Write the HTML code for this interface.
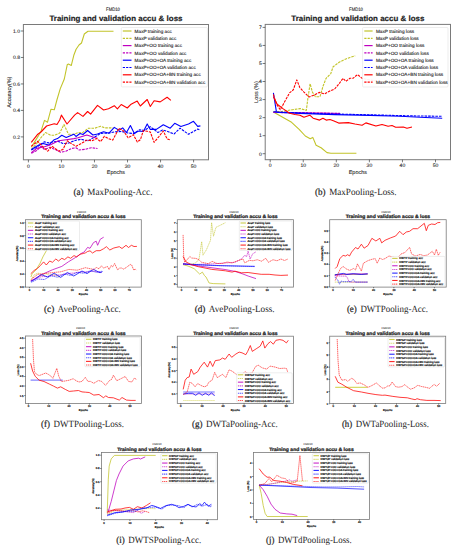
<!DOCTYPE html>
<html><head><meta charset="utf-8"><style>
html,body{margin:0;padding:0;background:#fff;}
svg{display:block;} text{text-rendering:geometricPrecision;}
</style></head><body>
<svg width="458" height="550" viewBox="0 0 458 550">
<rect width="458" height="550" fill="#fff"/>
<clipPath id="cpa"><rect x="23.4" y="24.5" width="185.1" height="135.3"/></clipPath>
<g clip-path="url(#cpa)">
<polyline points="31.30,147.30 38.00,136.40 41.10,130.90 44.50,120.40 47.50,122.20 51.00,109.20 54.30,109.80 56.90,100.00 60.20,88.90 64.30,79.00 67.20,64.80 68.40,64.00 71.30,65.40 73.80,55.30 76.10,49.20 79.00,45.00 81.50,43.00 84.30,34.00 88.00,31.20 113.50,31.20" fill="none" stroke="#c2c42a" stroke-width="1.1" stroke-opacity="1.0" stroke-linejoin="round"/>
<polyline points="31.30,142.40 37.80,134.20 41.00,132.00 46.60,126.00 54.20,123.80 57.00,124.50 59.70,120.00 61.40,115.10 67.00,124.00 74.60,115.10 77.60,112.60 83.00,116.40 87.60,111.50 90.60,114.10 97.50,105.40 103.60,110.00 108.50,108.70 114.30,105.70 117.40,108.80 121.20,104.50 127.30,108.00 131.10,104.20 137.20,101.10 140.30,106.00 147.20,99.50 150.30,106.50 154.10,100.70 160.20,101.90 167.10,97.30 170.90,100.40" fill="none" stroke="#ff0000" stroke-width="1.1" stroke-opacity="1.0" stroke-linejoin="round"/>
<polyline points="31.30,149.50 36.70,143.50 41.10,137.50 45.50,132.60 50.90,135.30 54.50,135.30 59.70,133.10 64.00,124.40 68.40,134.20 73.90,134.20 78.00,132.50 82.00,133.00 88.30,128.30 94.50,128.30 100.60,126.30 105.00,127.90 111.30,127.90 113.20,128.00" fill="none" stroke="#c2c42a" stroke-width="1.1" stroke-dasharray="2.6,1.0" stroke-opacity="1.0" stroke-linejoin="round"/>
<polyline points="31.30,149.50 34.50,147.50 38.90,145.10 43.30,143.50 48.70,145.10 54.20,139.70 57.50,138.60 61.80,135.30 66.20,137.50 73.90,134.20 76.00,136.50 80.00,133.50 83.00,134.50 87.60,130.50 92.90,135.00 97.50,134.00 103.60,131.70 109.00,133.20 114.30,127.40 119.00,130.20 122.70,127.90 126.50,132.50 130.40,125.60 134.20,133.20 137.30,131.30 140.00,131.30 143.40,131.50 147.20,123.90 150.30,129.40 156.40,129.40 163.30,124.80 170.20,128.20 174.70,123.30 180.90,126.40 188.50,123.90 193.50,121.30 197.70,126.40 200.40,125.90" fill="none" stroke="#0000ff" stroke-width="1.1" stroke-opacity="1.0" stroke-linejoin="round"/>
<polyline points="31.30,150.00 36.70,147.30 44.40,141.80 48.70,142.90 54.00,141.80 58.00,141.30 62.90,143.50 67.30,143.50 71.70,141.80 76.00,140.20 81.00,139.30 88.30,140.90 94.50,137.00 100.60,133.50 109.70,132.90 115.80,131.70 121.90,131.50 128.00,133.00 135.00,133.60 139.60,129.70 144.20,130.50 150.30,126.70 157.90,132.50 162.50,130.00 167.10,131.30 174.00,134.00 180.10,128.20 188.50,134.30 197.70,129.00 200.00,130.00" fill="none" stroke="#0000ff" stroke-width="1.1" stroke-dasharray="2.6,1.0" stroke-opacity="1.0" stroke-linejoin="round"/>
<polyline points="31.30,152.80 36.70,148.40 44.40,146.70 50.00,145.00 58.60,140.70 66.20,139.70 73.90,138.60 78.00,137.80 86.80,135.00 95.20,137.80 97.50,138.00" fill="none" stroke="#bf00bf" stroke-width="1.1" stroke-opacity="1.0" stroke-linejoin="round"/>
<polyline points="31.30,153.30 36.70,150.60 41.10,146.20 44.40,149.50 50.00,147.30 55.30,149.50 60.80,152.20 66.20,151.10 71.70,148.40 76.00,147.80 79.20,150.00 85.30,149.30 91.40,147.70 97.50,148.50" fill="none" stroke="#bf00bf" stroke-width="1.1" stroke-dasharray="2.6,1.0" stroke-opacity="1.0" stroke-linejoin="round"/>
<polyline points="31.30,146.20 37.80,141.30 42.20,146.20 47.70,151.10 52.00,146.20 58.60,151.10 62.90,149.50 67.30,140.70 71.70,144.00 76.00,146.20 80.80,143.80 86.80,140.10 92.00,140.80 96.80,138.60 100.60,141.60 104.40,136.30 108.30,138.60 112.80,140.10 118.90,128.30 123.50,130.90 128.10,137.80 133.40,134.70 137.30,142.00 140.40,139.70 143.40,130.50 147.20,131.30 150.30,132.00 154.10,142.30 158.70,136.80 163.30,131.00 167.10,138.90 170.50,140.10" fill="none" stroke="#ff0000" stroke-width="1.1" stroke-dasharray="2.6,1.0" stroke-opacity="1.0" stroke-linejoin="round"/>
</g>
<rect x="23.4" y="24.5" width="185.1" height="135.3" fill="none" stroke="#7a7a7a" stroke-width="1.0"/>
<line x1="28.40" y1="159.8" x2="28.40" y2="162.4" stroke="#222" stroke-width="0.6"/>
<text transform="translate(28.40 167.50) scale(0.1)" x="0" y="0" font-family="Liberation Sans" font-size="51.00" font-weight="normal" text-anchor="middle" fill="#222" stroke="#222" stroke-width="0.80">0</text>
<line x1="61.44" y1="159.8" x2="61.44" y2="162.4" stroke="#222" stroke-width="0.6"/>
<text transform="translate(61.44 167.50) scale(0.1)" x="0" y="0" font-family="Liberation Sans" font-size="51.00" font-weight="normal" text-anchor="middle" fill="#222" stroke="#222" stroke-width="0.80">10</text>
<line x1="94.48" y1="159.8" x2="94.48" y2="162.4" stroke="#222" stroke-width="0.6"/>
<text transform="translate(94.48 167.50) scale(0.1)" x="0" y="0" font-family="Liberation Sans" font-size="51.00" font-weight="normal" text-anchor="middle" fill="#222" stroke="#222" stroke-width="0.80">20</text>
<line x1="127.52" y1="159.8" x2="127.52" y2="162.4" stroke="#222" stroke-width="0.6"/>
<text transform="translate(127.52 167.50) scale(0.1)" x="0" y="0" font-family="Liberation Sans" font-size="51.00" font-weight="normal" text-anchor="middle" fill="#222" stroke="#222" stroke-width="0.80">30</text>
<line x1="160.56" y1="159.8" x2="160.56" y2="162.4" stroke="#222" stroke-width="0.6"/>
<text transform="translate(160.56 167.50) scale(0.1)" x="0" y="0" font-family="Liberation Sans" font-size="51.00" font-weight="normal" text-anchor="middle" fill="#222" stroke="#222" stroke-width="0.80">40</text>
<line x1="193.60" y1="159.8" x2="193.60" y2="162.4" stroke="#222" stroke-width="0.6"/>
<text transform="translate(193.60 167.50) scale(0.1)" x="0" y="0" font-family="Liberation Sans" font-size="51.00" font-weight="normal" text-anchor="middle" fill="#222" stroke="#222" stroke-width="0.80">50</text>
<line x1="20.799999999999997" y1="136.90" x2="23.4" y2="136.90" stroke="#222" stroke-width="0.6"/>
<text transform="translate(20.00 138.74) scale(0.1)" x="0" y="0" font-family="Liberation Sans" font-size="51.00" font-weight="normal" text-anchor="end" fill="#222" stroke="#222" stroke-width="0.80">0.2</text>
<line x1="20.799999999999997" y1="110.42" x2="23.4" y2="110.42" stroke="#222" stroke-width="0.6"/>
<text transform="translate(20.00 112.26) scale(0.1)" x="0" y="0" font-family="Liberation Sans" font-size="51.00" font-weight="normal" text-anchor="end" fill="#222" stroke="#222" stroke-width="0.80">0.4</text>
<line x1="20.799999999999997" y1="83.95" x2="23.4" y2="83.95" stroke="#222" stroke-width="0.6"/>
<text transform="translate(20.00 85.79) scale(0.1)" x="0" y="0" font-family="Liberation Sans" font-size="51.00" font-weight="normal" text-anchor="end" fill="#222" stroke="#222" stroke-width="0.80">0.6</text>
<line x1="20.799999999999997" y1="57.47" x2="23.4" y2="57.47" stroke="#222" stroke-width="0.6"/>
<text transform="translate(20.00 59.31) scale(0.1)" x="0" y="0" font-family="Liberation Sans" font-size="51.00" font-weight="normal" text-anchor="end" fill="#222" stroke="#222" stroke-width="0.80">0.8</text>
<line x1="20.799999999999997" y1="31.00" x2="23.4" y2="31.00" stroke="#222" stroke-width="0.6"/>
<text transform="translate(20.00 32.84) scale(0.1)" x="0" y="0" font-family="Liberation Sans" font-size="51.00" font-weight="normal" text-anchor="end" fill="#222" stroke="#222" stroke-width="0.80">1.0</text>
<text transform="translate(115.95 174.40) scale(0.1)" x="0" y="0" font-family="Liberation Sans" font-size="55.00" font-weight="normal" text-anchor="middle" fill="#222" stroke="#222" stroke-width="0.80">Epochs</text>
<text transform="translate(11.20 92.15) rotate(-90) scale(0.1)" x="0" y="0" font-family="Liberation Sans" font-size="55.00" font-weight="normal" text-anchor="middle" fill="#222" stroke="#222" stroke-width="0.80">Accuracy(%)</text>
<text transform="translate(115.95 21.40) scale(1.02 1) scale(0.1)" x="0" y="0" font-family="Liberation Sans" font-size="78.00" font-weight="bold" text-anchor="middle" fill="#222" stroke="#222" stroke-width="2.00">Training and validation accu &amp; loss</text>
<text transform="translate(113.00 10.60) scale(0.85 1) scale(0.1)" x="0" y="0" font-family="Liberation Sans" font-size="50.00" font-weight="normal" text-anchor="middle" fill="#222" stroke="#222" stroke-width="1.00">FMD10</text>
<rect x="121.3" y="27.5" width="86.10000000000001" height="59.400000000000006" fill="#fff" fill-opacity="0.92" stroke="#e0e0e0" stroke-width="0.6" rx="1"/>
<line x1="122.8" y1="31.00" x2="131.5" y2="31.00" stroke="#c2c42a" stroke-opacity="1.0" stroke-width="1.2"/>
<text transform="translate(134.60 32.69) scale(0.1)" x="0" y="0" font-family="Liberation Sans" font-size="47.00" font-weight="normal" text-anchor="start" fill="#222" stroke="#222" stroke-width="1.20">MaxP training acc</text>
<line x1="122.8" y1="38.30" x2="131.5" y2="38.30" stroke="#c2c42a" stroke-opacity="1.0" stroke-width="1.2" stroke-dasharray="2.2,1.1"/>
<text transform="translate(134.60 39.99) scale(0.1)" x="0" y="0" font-family="Liberation Sans" font-size="47.00" font-weight="normal" text-anchor="start" fill="#222" stroke="#222" stroke-width="1.20">MaxP validation acc</text>
<line x1="122.8" y1="45.60" x2="131.5" y2="45.60" stroke="#bf00bf" stroke-opacity="1.0" stroke-width="1.2"/>
<text transform="translate(134.60 47.29) scale(0.1)" x="0" y="0" font-family="Liberation Sans" font-size="47.00" font-weight="normal" text-anchor="start" fill="#222" stroke="#222" stroke-width="1.20">MaxP+OO training acc</text>
<line x1="122.8" y1="52.90" x2="131.5" y2="52.90" stroke="#bf00bf" stroke-opacity="1.0" stroke-width="1.2" stroke-dasharray="2.2,1.1"/>
<text transform="translate(134.60 54.59) scale(0.1)" x="0" y="0" font-family="Liberation Sans" font-size="47.00" font-weight="normal" text-anchor="start" fill="#222" stroke="#222" stroke-width="1.20">MaxP+OO validation acc</text>
<line x1="122.8" y1="60.20" x2="131.5" y2="60.20" stroke="#0000ff" stroke-opacity="1.0" stroke-width="1.2"/>
<text transform="translate(134.60 61.89) scale(0.1)" x="0" y="0" font-family="Liberation Sans" font-size="47.00" font-weight="normal" text-anchor="start" fill="#222" stroke="#222" stroke-width="1.20">MaxP+OO+OA training acc</text>
<line x1="122.8" y1="67.50" x2="131.5" y2="67.50" stroke="#0000ff" stroke-opacity="1.0" stroke-width="1.2" stroke-dasharray="2.2,1.1"/>
<text transform="translate(134.60 69.19) scale(0.1)" x="0" y="0" font-family="Liberation Sans" font-size="47.00" font-weight="normal" text-anchor="start" fill="#222" stroke="#222" stroke-width="1.20">MaxP+OO+OA validation acc</text>
<line x1="122.8" y1="74.80" x2="131.5" y2="74.80" stroke="#ff0000" stroke-opacity="1.0" stroke-width="1.2"/>
<text transform="translate(134.60 76.49) scale(0.1)" x="0" y="0" font-family="Liberation Sans" font-size="47.00" font-weight="normal" text-anchor="start" fill="#222" stroke="#222" stroke-width="1.20">MaxP+OO+OA+BN training acc</text>
<line x1="122.8" y1="82.10" x2="131.5" y2="82.10" stroke="#ff0000" stroke-opacity="1.0" stroke-width="1.2" stroke-dasharray="2.2,1.1"/>
<text transform="translate(134.60 83.79) scale(0.1)" x="0" y="0" font-family="Liberation Sans" font-size="47.00" font-weight="normal" text-anchor="start" fill="#222" stroke="#222" stroke-width="1.20">MaxP+OO+OA+BN validation acc</text>
<text transform="translate(73.5 195.4) scale(0.96 1)" x="0" y="0" font-family="Liberation Serif" font-size="9.5" fill="#222"><tspan stroke="#222" stroke-width="0.2">(a)</tspan><tspan dx="1.5"> MaxPooling-Acc.</tspan></text>
<clipPath id="cpb"><rect x="265.2" y="24.4" width="185.3" height="135.29999999999998"/></clipPath>
<g clip-path="url(#cpb)">
<polyline points="273.40,112.00 281.80,116.80 291.60,122.30 299.40,129.60 305.30,136.00 310.20,138.80 312.80,137.40 316.10,145.30 321.10,147.80 327.00,152.60 330.90,153.30 356.40,153.30" fill="none" stroke="#c2c42a" stroke-width="1.1" stroke-opacity="1.0" stroke-linejoin="round"/>
<polyline points="273.40,111.70 282.00,111.50 292.50,109.70 300.10,108.60 306.30,110.40 307.80,99.00 310.10,83.70 312.40,92.10 315.40,96.70 320.00,96.70 323.10,86.00 326.10,78.30 330.70,73.80 333.10,66.80 339.20,62.20 345.30,59.20 350.00,57.50 355.20,55.80" fill="none" stroke="#c2c42a" stroke-width="1.1" stroke-dasharray="2.6,1.0" stroke-opacity="1.0" stroke-linejoin="round"/>
<polyline points="273.40,112.30 340.00,113.50" fill="none" stroke="#bf00bf" stroke-width="1.1" stroke-opacity="1.0" stroke-linejoin="round"/>
<polyline points="273.40,112.50 340.00,113.30" fill="none" stroke="#bf00bf" stroke-width="1.1" stroke-dasharray="2.6,1.0" stroke-opacity="1.0" stroke-linejoin="round"/>
<polyline points="273.40,92.90 276.50,112.30 300.00,113.40 335.00,114.60 370.00,115.40 400.00,116.20 420.00,117.20 442.20,118.30" fill="none" stroke="#0000ff" stroke-width="1.1" stroke-opacity="1.0" stroke-linejoin="round"/>
<polyline points="273.40,111.80 300.00,113.00 335.00,114.00 370.00,114.80 400.00,115.60 420.00,116.00 442.20,116.30" fill="none" stroke="#0000ff" stroke-width="1.1" stroke-dasharray="2.6,1.0" stroke-opacity="1.0" stroke-linejoin="round"/>
<polyline points="273.40,96.70 277.20,104.30 283.30,108.90 289.60,113.30 295.00,114.50 300.00,115.20 303.90,117.20 309.80,115.20 313.10,118.20 319.60,120.10 322.90,118.20 326.20,120.10 330.00,119.50 334.00,121.00 338.70,123.10 348.30,122.60 355.00,124.00 362.10,125.20 365.90,122.90 375.90,126.00 382.00,124.50 388.10,126.30 392.00,125.50 395.70,127.20 403.30,127.00 407.00,128.30 412.00,127.00" fill="none" stroke="#ff0000" stroke-width="1.1" stroke-opacity="1.0" stroke-linejoin="round"/>
<polyline points="273.40,94.40 276.50,104.30 280.30,109.70 284.90,101.30 289.50,92.90 293.30,89.80 296.80,79.90 299.80,87.50 304.00,92.10 309.00,97.00 313.90,95.20 319.30,92.40 324.60,93.90 330.70,90.60 334.60,89.00 339.20,83.60 343.00,78.30 346.00,81.30 349.90,78.30 353.00,78.30 357.50,74.50 362.10,78.30 370.00,80.00 385.00,82.00 400.00,80.00 412.00,81.00" fill="none" stroke="#ff0000" stroke-width="1.1" stroke-dasharray="2.6,1.0" stroke-opacity="1.0" stroke-linejoin="round"/>
</g>
<rect x="265.2" y="24.4" width="185.3" height="135.29999999999998" fill="none" stroke="#7a7a7a" stroke-width="1.0"/>
<line x1="270.20" y1="159.7" x2="270.20" y2="162.29999999999998" stroke="#222" stroke-width="0.6"/>
<text transform="translate(270.20 167.40) scale(0.1)" x="0" y="0" font-family="Liberation Sans" font-size="51.00" font-weight="normal" text-anchor="middle" fill="#222" stroke="#222" stroke-width="0.80">0</text>
<line x1="303.26" y1="159.7" x2="303.26" y2="162.29999999999998" stroke="#222" stroke-width="0.6"/>
<text transform="translate(303.26 167.40) scale(0.1)" x="0" y="0" font-family="Liberation Sans" font-size="51.00" font-weight="normal" text-anchor="middle" fill="#222" stroke="#222" stroke-width="0.80">10</text>
<line x1="336.32" y1="159.7" x2="336.32" y2="162.29999999999998" stroke="#222" stroke-width="0.6"/>
<text transform="translate(336.32 167.40) scale(0.1)" x="0" y="0" font-family="Liberation Sans" font-size="51.00" font-weight="normal" text-anchor="middle" fill="#222" stroke="#222" stroke-width="0.80">20</text>
<line x1="369.38" y1="159.7" x2="369.38" y2="162.29999999999998" stroke="#222" stroke-width="0.6"/>
<text transform="translate(369.38 167.40) scale(0.1)" x="0" y="0" font-family="Liberation Sans" font-size="51.00" font-weight="normal" text-anchor="middle" fill="#222" stroke="#222" stroke-width="0.80">30</text>
<line x1="402.44" y1="159.7" x2="402.44" y2="162.29999999999998" stroke="#222" stroke-width="0.6"/>
<text transform="translate(402.44 167.40) scale(0.1)" x="0" y="0" font-family="Liberation Sans" font-size="51.00" font-weight="normal" text-anchor="middle" fill="#222" stroke="#222" stroke-width="0.80">40</text>
<line x1="435.50" y1="159.7" x2="435.50" y2="162.29999999999998" stroke="#222" stroke-width="0.6"/>
<text transform="translate(435.50 167.40) scale(0.1)" x="0" y="0" font-family="Liberation Sans" font-size="51.00" font-weight="normal" text-anchor="middle" fill="#222" stroke="#222" stroke-width="0.80">50</text>
<line x1="262.59999999999997" y1="153.70" x2="265.2" y2="153.70" stroke="#222" stroke-width="0.6"/>
<text transform="translate(261.80 155.54) scale(0.1)" x="0" y="0" font-family="Liberation Sans" font-size="51.00" font-weight="normal" text-anchor="end" fill="#222" stroke="#222" stroke-width="0.80">0</text>
<line x1="262.59999999999997" y1="135.66" x2="265.2" y2="135.66" stroke="#222" stroke-width="0.6"/>
<text transform="translate(261.80 137.49) scale(0.1)" x="0" y="0" font-family="Liberation Sans" font-size="51.00" font-weight="normal" text-anchor="end" fill="#222" stroke="#222" stroke-width="0.80">1</text>
<line x1="262.59999999999997" y1="117.61" x2="265.2" y2="117.61" stroke="#222" stroke-width="0.6"/>
<text transform="translate(261.80 119.45) scale(0.1)" x="0" y="0" font-family="Liberation Sans" font-size="51.00" font-weight="normal" text-anchor="end" fill="#222" stroke="#222" stroke-width="0.80">2</text>
<line x1="262.59999999999997" y1="99.57" x2="265.2" y2="99.57" stroke="#222" stroke-width="0.6"/>
<text transform="translate(261.80 101.41) scale(0.1)" x="0" y="0" font-family="Liberation Sans" font-size="51.00" font-weight="normal" text-anchor="end" fill="#222" stroke="#222" stroke-width="0.80">3</text>
<line x1="262.59999999999997" y1="81.53" x2="265.2" y2="81.53" stroke="#222" stroke-width="0.6"/>
<text transform="translate(261.80 83.36) scale(0.1)" x="0" y="0" font-family="Liberation Sans" font-size="51.00" font-weight="normal" text-anchor="end" fill="#222" stroke="#222" stroke-width="0.80">4</text>
<line x1="262.59999999999997" y1="63.49" x2="265.2" y2="63.49" stroke="#222" stroke-width="0.6"/>
<text transform="translate(261.80 65.32) scale(0.1)" x="0" y="0" font-family="Liberation Sans" font-size="51.00" font-weight="normal" text-anchor="end" fill="#222" stroke="#222" stroke-width="0.80">5</text>
<line x1="262.59999999999997" y1="45.44" x2="265.2" y2="45.44" stroke="#222" stroke-width="0.6"/>
<text transform="translate(261.80 47.28) scale(0.1)" x="0" y="0" font-family="Liberation Sans" font-size="51.00" font-weight="normal" text-anchor="end" fill="#222" stroke="#222" stroke-width="0.80">6</text>
<line x1="262.59999999999997" y1="27.40" x2="265.2" y2="27.40" stroke="#222" stroke-width="0.6"/>
<text transform="translate(261.80 29.24) scale(0.1)" x="0" y="0" font-family="Liberation Sans" font-size="51.00" font-weight="normal" text-anchor="end" fill="#222" stroke="#222" stroke-width="0.80">7</text>
<text transform="translate(357.85 174.30) scale(0.1)" x="0" y="0" font-family="Liberation Sans" font-size="55.00" font-weight="normal" text-anchor="middle" fill="#222" stroke="#222" stroke-width="0.80">Epochs</text>
<text transform="translate(257.50 92.05) rotate(-90) scale(0.1)" x="0" y="0" font-family="Liberation Sans" font-size="55.00" font-weight="normal" text-anchor="middle" fill="#222" stroke="#222" stroke-width="0.80">Loss (%)</text>
<text transform="translate(357.85 21.30) scale(1.02 1) scale(0.1)" x="0" y="0" font-family="Liberation Sans" font-size="78.00" font-weight="bold" text-anchor="middle" fill="#222" stroke="#222" stroke-width="2.00">Training and validation accu &amp; loss</text>
<text transform="translate(356.00 10.60) scale(0.85 1) scale(0.1)" x="0" y="0" font-family="Liberation Sans" font-size="50.00" font-weight="normal" text-anchor="middle" fill="#222" stroke="#222" stroke-width="1.00">FMD10</text>
<rect x="362.6" y="27.5" width="85.39999999999998" height="59.5" fill="#fff" fill-opacity="0.92" stroke="#e0e0e0" stroke-width="0.6" rx="1"/>
<line x1="364.3" y1="31.00" x2="372.6" y2="31.00" stroke="#c2c42a" stroke-opacity="1.0" stroke-width="1.2"/>
<text transform="translate(375.90 32.69) scale(0.1)" x="0" y="0" font-family="Liberation Sans" font-size="47.00" font-weight="normal" text-anchor="start" fill="#222" stroke="#222" stroke-width="1.20">MaxP training loss</text>
<line x1="364.3" y1="38.30" x2="372.6" y2="38.30" stroke="#c2c42a" stroke-opacity="1.0" stroke-width="1.2" stroke-dasharray="2.2,1.1"/>
<text transform="translate(375.90 39.99) scale(0.1)" x="0" y="0" font-family="Liberation Sans" font-size="47.00" font-weight="normal" text-anchor="start" fill="#222" stroke="#222" stroke-width="1.20">MaxP validation loss</text>
<line x1="364.3" y1="45.60" x2="372.6" y2="45.60" stroke="#bf00bf" stroke-opacity="1.0" stroke-width="1.2"/>
<text transform="translate(375.90 47.29) scale(0.1)" x="0" y="0" font-family="Liberation Sans" font-size="47.00" font-weight="normal" text-anchor="start" fill="#222" stroke="#222" stroke-width="1.20">MaxP+OO training loss</text>
<line x1="364.3" y1="52.90" x2="372.6" y2="52.90" stroke="#bf00bf" stroke-opacity="1.0" stroke-width="1.2" stroke-dasharray="2.2,1.1"/>
<text transform="translate(375.90 54.59) scale(0.1)" x="0" y="0" font-family="Liberation Sans" font-size="47.00" font-weight="normal" text-anchor="start" fill="#222" stroke="#222" stroke-width="1.20">MaxP+OO validation loss</text>
<line x1="364.3" y1="60.20" x2="372.6" y2="60.20" stroke="#0000ff" stroke-opacity="1.0" stroke-width="1.2"/>
<text transform="translate(375.90 61.89) scale(0.1)" x="0" y="0" font-family="Liberation Sans" font-size="47.00" font-weight="normal" text-anchor="start" fill="#222" stroke="#222" stroke-width="1.20">MaxP+OO+OA training loss</text>
<line x1="364.3" y1="67.50" x2="372.6" y2="67.50" stroke="#0000ff" stroke-opacity="1.0" stroke-width="1.2" stroke-dasharray="2.2,1.1"/>
<text transform="translate(375.90 69.19) scale(0.1)" x="0" y="0" font-family="Liberation Sans" font-size="47.00" font-weight="normal" text-anchor="start" fill="#222" stroke="#222" stroke-width="1.20">MaxP+OO+OA validation loss</text>
<line x1="364.3" y1="74.80" x2="372.6" y2="74.80" stroke="#ff0000" stroke-opacity="1.0" stroke-width="1.2"/>
<text transform="translate(375.90 76.49) scale(0.1)" x="0" y="0" font-family="Liberation Sans" font-size="47.00" font-weight="normal" text-anchor="start" fill="#222" stroke="#222" stroke-width="1.20">MaxP+OO+OA+BN training loss</text>
<line x1="364.3" y1="82.10" x2="372.6" y2="82.10" stroke="#ff0000" stroke-opacity="1.0" stroke-width="1.2" stroke-dasharray="2.2,1.1"/>
<text transform="translate(375.90 83.79) scale(0.1)" x="0" y="0" font-family="Liberation Sans" font-size="47.00" font-weight="normal" text-anchor="start" fill="#222" stroke="#222" stroke-width="1.20">MaxP+OO+OA+BN validation loss</text>
<text transform="translate(314.9 194.8) scale(0.956 1)" x="0" y="0" font-family="Liberation Serif" font-size="9.5" fill="#222"><tspan stroke="#222" stroke-width="0.2">(b)</tspan><tspan dx="1.5"> MaxPooling-Loss.</tspan></text>
<clipPath id="cpc"><rect x="25.5" y="219.7" width="115.80000000000001" height="67.40000000000003"/></clipPath>
<g clip-path="url(#cpc)">
<polyline points="30.90,277.00 32.10,273.80 36.10,269.80 40.20,263.00 42.90,256.90 46.30,250.80 50.00,243.00 54.00,233.00 58.00,226.00 59.70,223.50" fill="none" stroke="#c2c42a" stroke-width="0.9" stroke-opacity="0.85" stroke-linejoin="round"/>
<polyline points="30.90,280.00 34.00,275.00 38.10,273.00 42.00,275.50 45.00,273.50 49.00,275.00 53.00,274.50 56.50,275.50 59.70,277.60" fill="none" stroke="#c2c42a" stroke-width="0.9" stroke-dasharray="1.5,0.5" stroke-opacity="0.65" stroke-linejoin="round"/>
<polyline points="30.90,280.90 37.00,277.50 44.00,273.50 52.40,269.80 61.80,266.40 68.60,261.70 75.40,257.60 82.10,252.90 84.10,252.10 87.60,247.40 90.00,248.30 93.50,242.60 96.20,241.20 97.60,245.30 100.30,239.20 103.70,237.20" fill="none" stroke="#bf00bf" stroke-width="0.9" stroke-opacity="0.85" stroke-linejoin="round"/>
<polyline points="30.50,280.80 35.00,279.00 41.10,276.70 47.00,276.50 54.20,275.10 60.00,275.00 67.30,273.50 74.00,273.00 80.40,271.80 87.00,272.00 93.50,271.00 98.00,272.00 101.70,272.60" fill="none" stroke="#bf00bf" stroke-width="0.9" stroke-dasharray="1.5,0.5" stroke-opacity="0.65" stroke-linejoin="round"/>
<polyline points="30.90,281.50 34.50,279.50 41.10,274.50 47.60,277.00 54.20,273.20 60.70,277.40 67.30,272.50 73.80,276.00 82.00,271.00 87.00,273.60 93.50,269.30 100.00,272.80 102.50,271.50" fill="none" stroke="#0000ff" stroke-width="0.9" stroke-opacity="0.85" stroke-linejoin="round"/>
<polyline points="31.30,282.30 37.80,279.00 44.40,279.50 50.90,275.80 57.50,277.20 64.00,274.00 70.60,275.40 77.10,272.40 83.70,273.20 90.20,270.80 96.80,272.30 101.70,271.20" fill="none" stroke="#0000ff" stroke-width="0.9" stroke-dasharray="1.5,0.5" stroke-opacity="0.65" stroke-linejoin="round"/>
<polyline points="30.70,273.80 34.10,270.50 37.50,268.40 40.20,265.70 43.60,261.90 46.30,265.00 49.70,261.00 52.40,262.30 55.80,259.00 58.50,261.00 61.80,258.30 64.60,259.60 67.90,256.90 70.60,258.30 74.00,255.60 76.70,256.90 80.10,254.20 83.50,253.50 85.50,252.80 87.60,251.50 90.00,250.80 92.50,253.00 96.20,250.70 100.00,250.70 103.70,248.70 106.40,246.70 109.80,250.00 113.80,248.00 119.30,246.70 122.00,248.50 126.00,245.30 128.50,247.50 131.40,245.30 134.00,246.50 136.90,246.40" fill="none" stroke="#ff0000" stroke-width="0.9" stroke-opacity="0.85" stroke-linejoin="round"/>
<polyline points="31.30,279.20 37.80,274.30 44.40,273.50 52.60,272.60 60.70,271.80 68.90,269.40 77.10,270.20 85.30,267.70 93.50,269.40 96.50,267.50 99.00,268.80 101.50,265.80 103.50,268.10 106.00,267.00 107.50,266.50 109.10,269.60 111.10,265.50 112.60,266.90 114.60,263.50 117.60,269.90 119.60,268.10 121.50,268.00 123.60,269.10 126.10,267.60 130.20,264.50 131.70,265.00 133.70,270.10 135.20,269.10 136.20,270.10" fill="none" stroke="#ff0000" stroke-width="0.9" stroke-dasharray="1.5,0.5" stroke-opacity="0.65" stroke-linejoin="round"/>
</g>
<rect x="25.5" y="219.7" width="115.80000000000001" height="67.40000000000003" fill="none" stroke="#7a7a7a" stroke-width="0.8"/>
<line x1="29.40" y1="287.1" x2="29.40" y2="288.3" stroke="#222" stroke-width="0.6"/>
<text transform="translate(29.40 291.00) scale(0.1)" x="0" y="0" font-family="Liberation Sans" font-size="27.00" font-weight="normal" text-anchor="middle" fill="#222" stroke="#222" stroke-width="2.00">0</text>
<line x1="43.66" y1="287.1" x2="43.66" y2="288.3" stroke="#222" stroke-width="0.6"/>
<text transform="translate(43.66 291.00) scale(0.1)" x="0" y="0" font-family="Liberation Sans" font-size="27.00" font-weight="normal" text-anchor="middle" fill="#222" stroke="#222" stroke-width="2.00">10</text>
<line x1="57.92" y1="287.1" x2="57.92" y2="288.3" stroke="#222" stroke-width="0.6"/>
<text transform="translate(57.92 291.00) scale(0.1)" x="0" y="0" font-family="Liberation Sans" font-size="27.00" font-weight="normal" text-anchor="middle" fill="#222" stroke="#222" stroke-width="2.00">20</text>
<line x1="72.18" y1="287.1" x2="72.18" y2="288.3" stroke="#222" stroke-width="0.6"/>
<text transform="translate(72.18 291.00) scale(0.1)" x="0" y="0" font-family="Liberation Sans" font-size="27.00" font-weight="normal" text-anchor="middle" fill="#222" stroke="#222" stroke-width="2.00">30</text>
<line x1="86.44" y1="287.1" x2="86.44" y2="288.3" stroke="#222" stroke-width="0.6"/>
<text transform="translate(86.44 291.00) scale(0.1)" x="0" y="0" font-family="Liberation Sans" font-size="27.00" font-weight="normal" text-anchor="middle" fill="#222" stroke="#222" stroke-width="2.00">40</text>
<line x1="100.70" y1="287.1" x2="100.70" y2="288.3" stroke="#222" stroke-width="0.6"/>
<text transform="translate(100.70 291.00) scale(0.1)" x="0" y="0" font-family="Liberation Sans" font-size="27.00" font-weight="normal" text-anchor="middle" fill="#222" stroke="#222" stroke-width="2.00">50</text>
<line x1="114.96" y1="287.1" x2="114.96" y2="288.3" stroke="#222" stroke-width="0.6"/>
<text transform="translate(114.96 291.00) scale(0.1)" x="0" y="0" font-family="Liberation Sans" font-size="27.00" font-weight="normal" text-anchor="middle" fill="#222" stroke="#222" stroke-width="2.00">60</text>
<line x1="129.22" y1="287.1" x2="129.22" y2="288.3" stroke="#222" stroke-width="0.6"/>
<text transform="translate(129.22 291.00) scale(0.1)" x="0" y="0" font-family="Liberation Sans" font-size="27.00" font-weight="normal" text-anchor="middle" fill="#222" stroke="#222" stroke-width="2.00">70</text>
<line x1="24.3" y1="287.00" x2="25.5" y2="287.00" stroke="#222" stroke-width="0.6"/>
<text transform="translate(23.70 287.97) scale(0.1)" x="0" y="0" font-family="Liberation Sans" font-size="27.00" font-weight="normal" text-anchor="end" fill="#222" stroke="#222" stroke-width="2.00">0.0</text>
<line x1="24.3" y1="274.16" x2="25.5" y2="274.16" stroke="#222" stroke-width="0.6"/>
<text transform="translate(23.70 275.13) scale(0.1)" x="0" y="0" font-family="Liberation Sans" font-size="27.00" font-weight="normal" text-anchor="end" fill="#222" stroke="#222" stroke-width="2.00">0.2</text>
<line x1="24.3" y1="261.32" x2="25.5" y2="261.32" stroke="#222" stroke-width="0.6"/>
<text transform="translate(23.70 262.29) scale(0.1)" x="0" y="0" font-family="Liberation Sans" font-size="27.00" font-weight="normal" text-anchor="end" fill="#222" stroke="#222" stroke-width="2.00">0.4</text>
<line x1="24.3" y1="248.48" x2="25.5" y2="248.48" stroke="#222" stroke-width="0.6"/>
<text transform="translate(23.70 249.45) scale(0.1)" x="0" y="0" font-family="Liberation Sans" font-size="27.00" font-weight="normal" text-anchor="end" fill="#222" stroke="#222" stroke-width="2.00">0.6</text>
<line x1="24.3" y1="235.64" x2="25.5" y2="235.64" stroke="#222" stroke-width="0.6"/>
<text transform="translate(23.70 236.61) scale(0.1)" x="0" y="0" font-family="Liberation Sans" font-size="27.00" font-weight="normal" text-anchor="end" fill="#222" stroke="#222" stroke-width="2.00">0.8</text>
<line x1="24.3" y1="222.80" x2="25.5" y2="222.80" stroke="#222" stroke-width="0.6"/>
<text transform="translate(23.70 223.77) scale(0.1)" x="0" y="0" font-family="Liberation Sans" font-size="27.00" font-weight="normal" text-anchor="end" fill="#222" stroke="#222" stroke-width="2.00">1.0</text>
<text transform="translate(83.40 295.00) scale(0.1)" x="0" y="0" font-family="Liberation Sans" font-size="27.50" font-weight="normal" text-anchor="middle" fill="#222" stroke="#222" stroke-width="2.00">Epochs</text>
<text transform="translate(18.00 253.40) rotate(-90) scale(0.1)" x="0" y="0" font-family="Liberation Sans" font-size="27.50" font-weight="normal" text-anchor="middle" fill="#222" stroke="#222" stroke-width="2.00">Accuracy(%)</text>
<text transform="translate(83.40 218.40) scale(1.03 1) scale(0.1)" x="0" y="0" font-family="Liberation Sans" font-size="49.00" font-weight="bold" text-anchor="middle" fill="#222" stroke="#222" stroke-width="2.50">Training and validation accu &amp; loss</text>
<text transform="translate(81.50 213.00) scale(0.1)" x="0" y="0" font-family="Liberation Sans" font-size="27.00" font-weight="normal" text-anchor="middle" fill="#222" stroke="#222" stroke-width="0.50">FMD10</text>
<rect x="26.7" y="221.0" width="52.8" height="29.400000000000006" fill="#fff" fill-opacity="0.92" stroke="#e0e0e0" stroke-width="0.6" rx="1"/>
<line x1="27.9" y1="223.00" x2="33.3" y2="223.00" stroke="#c2c42a" stroke-opacity="0.85" stroke-width="1.1"/>
<text transform="translate(34.90 224.03) scale(0.1)" x="0" y="0" font-family="Liberation Sans" font-size="28.50" font-weight="normal" text-anchor="start" fill="#222" stroke="#222" stroke-width="2.00">AveP training acc</text>
<line x1="27.9" y1="226.68" x2="33.3" y2="226.68" stroke="#c2c42a" stroke-opacity="0.65" stroke-width="1.1" stroke-dasharray="1.3,0.6"/>
<text transform="translate(34.90 227.71) scale(0.1)" x="0" y="0" font-family="Liberation Sans" font-size="28.50" font-weight="normal" text-anchor="start" fill="#222" stroke="#222" stroke-width="2.00">AveP validation acc</text>
<line x1="27.9" y1="230.36" x2="33.3" y2="230.36" stroke="#bf00bf" stroke-opacity="0.85" stroke-width="1.1"/>
<text transform="translate(34.90 231.39) scale(0.1)" x="0" y="0" font-family="Liberation Sans" font-size="28.50" font-weight="normal" text-anchor="start" fill="#222" stroke="#222" stroke-width="2.00">AveP+OO training acc</text>
<line x1="27.9" y1="234.04" x2="33.3" y2="234.04" stroke="#bf00bf" stroke-opacity="0.65" stroke-width="1.1" stroke-dasharray="1.3,0.6"/>
<text transform="translate(34.90 235.07) scale(0.1)" x="0" y="0" font-family="Liberation Sans" font-size="28.50" font-weight="normal" text-anchor="start" fill="#222" stroke="#222" stroke-width="2.00">AveP+OO validation acc</text>
<line x1="27.9" y1="237.72" x2="33.3" y2="237.72" stroke="#0000ff" stroke-opacity="0.85" stroke-width="1.1"/>
<text transform="translate(34.90 238.75) scale(0.1)" x="0" y="0" font-family="Liberation Sans" font-size="28.50" font-weight="normal" text-anchor="start" fill="#222" stroke="#222" stroke-width="2.00">AveP+OO+OA training acc</text>
<line x1="27.9" y1="241.40" x2="33.3" y2="241.40" stroke="#0000ff" stroke-opacity="0.65" stroke-width="1.1" stroke-dasharray="1.3,0.6"/>
<text transform="translate(34.90 242.43) scale(0.1)" x="0" y="0" font-family="Liberation Sans" font-size="28.50" font-weight="normal" text-anchor="start" fill="#222" stroke="#222" stroke-width="2.00">AveP+OO+OA validation acc</text>
<line x1="27.9" y1="245.08" x2="33.3" y2="245.08" stroke="#ff0000" stroke-opacity="0.85" stroke-width="1.1"/>
<text transform="translate(34.90 246.11) scale(0.1)" x="0" y="0" font-family="Liberation Sans" font-size="28.50" font-weight="normal" text-anchor="start" fill="#222" stroke="#222" stroke-width="2.00">AveP+OO+OA+BN training acc</text>
<line x1="27.9" y1="248.76" x2="33.3" y2="248.76" stroke="#ff0000" stroke-opacity="0.65" stroke-width="1.1" stroke-dasharray="1.3,0.6"/>
<text transform="translate(34.90 249.79) scale(0.1)" x="0" y="0" font-family="Liberation Sans" font-size="28.50" font-weight="normal" text-anchor="start" fill="#222" stroke="#222" stroke-width="2.00">AveP+OO+OA+BN validation acc</text>
<text transform="translate(44.0 312.3) scale(0.968 1)" x="0" y="0" font-family="Liberation Serif" font-size="9.5" fill="#222"><tspan stroke="#222" stroke-width="0.2">(c)</tspan><tspan dx="1.5"> AvePooling-Acc.</tspan></text>
<clipPath id="cpd"><rect x="177.3" y="219.7" width="116.09999999999997" height="67.40000000000003"/></clipPath>
<g clip-path="url(#cpd)">
<polyline points="183.10,264.70 188.00,266.00 194.20,268.70 199.70,274.10 202.40,272.10 204.40,275.50 206.00,277.00 209.10,283.00 213.20,283.60 225.40,283.90" fill="none" stroke="#c2c42a" stroke-width="0.9" stroke-opacity="0.85" stroke-linejoin="round"/>
<polyline points="183.10,264.00 190.00,264.50 195.60,263.00 199.00,259.30 201.70,241.70 203.00,255.20 206.40,249.80 210.50,240.30 211.60,222.70 213.50,236.20 215.90,227.40 225.40,222.70" fill="none" stroke="#c2c42a" stroke-width="0.9" stroke-dasharray="1.5,0.5" stroke-opacity="0.65" stroke-linejoin="round"/>
<polyline points="183.10,263.50 195.00,265.50 210.00,267.50 225.00,269.50 235.00,271.40 242.90,274.00 248.10,276.00 252.00,277.30 256.00,278.60" fill="none" stroke="#bf00bf" stroke-width="0.9" stroke-opacity="0.85" stroke-linejoin="round"/>
<polyline points="183.10,264.50 195.00,264.50 210.00,264.00 225.00,263.00 235.00,262.30 238.90,260.30 242.20,258.30 244.80,255.10 246.50,257.00 248.10,251.10 250.10,259.00 252.70,253.80 256.00,251.80" fill="none" stroke="#bf00bf" stroke-width="0.9" stroke-dasharray="1.5,0.5" stroke-opacity="0.65" stroke-linejoin="round"/>
<polyline points="183.10,263.80 200.00,264.80 220.00,265.60 254.70,266.30" fill="none" stroke="#0000ff" stroke-width="0.8" stroke-opacity="0.85" stroke-linejoin="round"/>
<polyline points="183.10,264.20 200.00,265.00 220.00,265.80 254.70,266.60" fill="none" stroke="#0000ff" stroke-width="0.8" stroke-dasharray="1.5,0.5" stroke-opacity="0.65" stroke-linejoin="round"/>
<polyline points="183.10,256.50 186.10,262.00 191.50,264.70 198.30,266.70 205.00,268.00 211.80,269.40 218.00,270.00 225.40,270.80 232.10,272.10 235.00,271.20 241.60,272.80 248.10,272.50 255.00,273.50 261.20,274.30 269.10,274.30 275.00,275.00 280.90,275.40 288.00,275.10" fill="none" stroke="#ff0000" stroke-width="0.9" stroke-opacity="0.85" stroke-linejoin="round"/>
<polyline points="183.10,234.90 183.70,256.50 184.60,262.20 186.90,259.90 189.90,256.50 191.50,258.00 196.00,258.40 199.10,259.90 201.40,262.20 205.20,263.00 208.30,263.70 212.10,261.40 215.00,262.60 217.00,263.50 222.00,263.50 227.40,262.00 232.00,263.00 236.20,261.30 242.90,259.00 244.80,262.90 249.40,260.30 253.00,260.80 257.30,259.70 261.50,261.20 265.80,258.30 268.40,262.30 273.00,259.70 277.00,260.80 280.90,259.00 284.50,260.50 288.00,259.00" fill="none" stroke="#ff0000" stroke-width="0.9" stroke-dasharray="1.5,0.5" stroke-opacity="0.65" stroke-linejoin="round"/>
</g>
<rect x="177.3" y="219.7" width="116.09999999999997" height="67.40000000000003" fill="none" stroke="#7a7a7a" stroke-width="0.8"/>
<line x1="181.50" y1="287.1" x2="181.50" y2="288.3" stroke="#222" stroke-width="0.6"/>
<text transform="translate(181.50 291.00) scale(0.1)" x="0" y="0" font-family="Liberation Sans" font-size="27.00" font-weight="normal" text-anchor="middle" fill="#222" stroke="#222" stroke-width="2.00">0</text>
<line x1="195.79" y1="287.1" x2="195.79" y2="288.3" stroke="#222" stroke-width="0.6"/>
<text transform="translate(195.79 291.00) scale(0.1)" x="0" y="0" font-family="Liberation Sans" font-size="27.00" font-weight="normal" text-anchor="middle" fill="#222" stroke="#222" stroke-width="2.00">10</text>
<line x1="210.07" y1="287.1" x2="210.07" y2="288.3" stroke="#222" stroke-width="0.6"/>
<text transform="translate(210.07 291.00) scale(0.1)" x="0" y="0" font-family="Liberation Sans" font-size="27.00" font-weight="normal" text-anchor="middle" fill="#222" stroke="#222" stroke-width="2.00">20</text>
<line x1="224.36" y1="287.1" x2="224.36" y2="288.3" stroke="#222" stroke-width="0.6"/>
<text transform="translate(224.36 291.00) scale(0.1)" x="0" y="0" font-family="Liberation Sans" font-size="27.00" font-weight="normal" text-anchor="middle" fill="#222" stroke="#222" stroke-width="2.00">30</text>
<line x1="238.64" y1="287.1" x2="238.64" y2="288.3" stroke="#222" stroke-width="0.6"/>
<text transform="translate(238.64 291.00) scale(0.1)" x="0" y="0" font-family="Liberation Sans" font-size="27.00" font-weight="normal" text-anchor="middle" fill="#222" stroke="#222" stroke-width="2.00">40</text>
<line x1="252.93" y1="287.1" x2="252.93" y2="288.3" stroke="#222" stroke-width="0.6"/>
<text transform="translate(252.93 291.00) scale(0.1)" x="0" y="0" font-family="Liberation Sans" font-size="27.00" font-weight="normal" text-anchor="middle" fill="#222" stroke="#222" stroke-width="2.00">50</text>
<line x1="267.22" y1="287.1" x2="267.22" y2="288.3" stroke="#222" stroke-width="0.6"/>
<text transform="translate(267.22 291.00) scale(0.1)" x="0" y="0" font-family="Liberation Sans" font-size="27.00" font-weight="normal" text-anchor="middle" fill="#222" stroke="#222" stroke-width="2.00">60</text>
<line x1="281.50" y1="287.1" x2="281.50" y2="288.3" stroke="#222" stroke-width="0.6"/>
<text transform="translate(281.50 291.00) scale(0.1)" x="0" y="0" font-family="Liberation Sans" font-size="27.00" font-weight="normal" text-anchor="middle" fill="#222" stroke="#222" stroke-width="2.00">70</text>
<line x1="176.10000000000002" y1="284.40" x2="177.3" y2="284.40" stroke="#222" stroke-width="0.6"/>
<text transform="translate(175.50 285.37) scale(0.1)" x="0" y="0" font-family="Liberation Sans" font-size="27.00" font-weight="normal" text-anchor="end" fill="#222" stroke="#222" stroke-width="2.00">0</text>
<line x1="176.10000000000002" y1="275.67" x2="177.3" y2="275.67" stroke="#222" stroke-width="0.6"/>
<text transform="translate(175.50 276.64) scale(0.1)" x="0" y="0" font-family="Liberation Sans" font-size="27.00" font-weight="normal" text-anchor="end" fill="#222" stroke="#222" stroke-width="2.00">1</text>
<line x1="176.10000000000002" y1="266.94" x2="177.3" y2="266.94" stroke="#222" stroke-width="0.6"/>
<text transform="translate(175.50 267.91) scale(0.1)" x="0" y="0" font-family="Liberation Sans" font-size="27.00" font-weight="normal" text-anchor="end" fill="#222" stroke="#222" stroke-width="2.00">2</text>
<line x1="176.10000000000002" y1="258.21" x2="177.3" y2="258.21" stroke="#222" stroke-width="0.6"/>
<text transform="translate(175.50 259.19) scale(0.1)" x="0" y="0" font-family="Liberation Sans" font-size="27.00" font-weight="normal" text-anchor="end" fill="#222" stroke="#222" stroke-width="2.00">3</text>
<line x1="176.10000000000002" y1="249.49" x2="177.3" y2="249.49" stroke="#222" stroke-width="0.6"/>
<text transform="translate(175.50 250.46) scale(0.1)" x="0" y="0" font-family="Liberation Sans" font-size="27.00" font-weight="normal" text-anchor="end" fill="#222" stroke="#222" stroke-width="2.00">4</text>
<line x1="176.10000000000002" y1="240.76" x2="177.3" y2="240.76" stroke="#222" stroke-width="0.6"/>
<text transform="translate(175.50 241.73) scale(0.1)" x="0" y="0" font-family="Liberation Sans" font-size="27.00" font-weight="normal" text-anchor="end" fill="#222" stroke="#222" stroke-width="2.00">5</text>
<line x1="176.10000000000002" y1="232.03" x2="177.3" y2="232.03" stroke="#222" stroke-width="0.6"/>
<text transform="translate(175.50 233.00) scale(0.1)" x="0" y="0" font-family="Liberation Sans" font-size="27.00" font-weight="normal" text-anchor="end" fill="#222" stroke="#222" stroke-width="2.00">6</text>
<line x1="176.10000000000002" y1="223.30" x2="177.3" y2="223.30" stroke="#222" stroke-width="0.6"/>
<text transform="translate(175.50 224.27) scale(0.1)" x="0" y="0" font-family="Liberation Sans" font-size="27.00" font-weight="normal" text-anchor="end" fill="#222" stroke="#222" stroke-width="2.00">7</text>
<text transform="translate(235.35 295.00) scale(0.1)" x="0" y="0" font-family="Liberation Sans" font-size="27.50" font-weight="normal" text-anchor="middle" fill="#222" stroke="#222" stroke-width="2.00">Epochs</text>
<text transform="translate(173.20 253.40) rotate(-90) scale(0.1)" x="0" y="0" font-family="Liberation Sans" font-size="27.50" font-weight="normal" text-anchor="middle" fill="#222" stroke="#222" stroke-width="2.00">Loss (%)</text>
<text transform="translate(235.35 218.40) scale(1.03 1) scale(0.1)" x="0" y="0" font-family="Liberation Sans" font-size="49.00" font-weight="bold" text-anchor="middle" fill="#222" stroke="#222" stroke-width="2.50">Training and validation accu &amp; loss</text>
<text transform="translate(234.00 213.00) scale(0.1)" x="0" y="0" font-family="Liberation Sans" font-size="27.00" font-weight="normal" text-anchor="middle" fill="#222" stroke="#222" stroke-width="0.50">FMD10</text>
<rect x="239.3" y="221.0" width="52.89999999999998" height="29.400000000000006" fill="#fff" fill-opacity="0.92" stroke="#e0e0e0" stroke-width="0.6" rx="1"/>
<line x1="240.5" y1="223.00" x2="245.9" y2="223.00" stroke="#c2c42a" stroke-opacity="0.85" stroke-width="1.1"/>
<text transform="translate(247.50 224.03) scale(0.1)" x="0" y="0" font-family="Liberation Sans" font-size="28.50" font-weight="normal" text-anchor="start" fill="#222" stroke="#222" stroke-width="2.00">AveP training loss</text>
<line x1="240.5" y1="226.68" x2="245.9" y2="226.68" stroke="#c2c42a" stroke-opacity="0.65" stroke-width="1.1" stroke-dasharray="1.3,0.6"/>
<text transform="translate(247.50 227.71) scale(0.1)" x="0" y="0" font-family="Liberation Sans" font-size="28.50" font-weight="normal" text-anchor="start" fill="#222" stroke="#222" stroke-width="2.00">AveP validation loss</text>
<line x1="240.5" y1="230.36" x2="245.9" y2="230.36" stroke="#bf00bf" stroke-opacity="0.85" stroke-width="1.1"/>
<text transform="translate(247.50 231.39) scale(0.1)" x="0" y="0" font-family="Liberation Sans" font-size="28.50" font-weight="normal" text-anchor="start" fill="#222" stroke="#222" stroke-width="2.00">AveP+OO training loss</text>
<line x1="240.5" y1="234.04" x2="245.9" y2="234.04" stroke="#bf00bf" stroke-opacity="0.65" stroke-width="1.1" stroke-dasharray="1.3,0.6"/>
<text transform="translate(247.50 235.07) scale(0.1)" x="0" y="0" font-family="Liberation Sans" font-size="28.50" font-weight="normal" text-anchor="start" fill="#222" stroke="#222" stroke-width="2.00">AveP+OO validation loss</text>
<line x1="240.5" y1="237.72" x2="245.9" y2="237.72" stroke="#0000ff" stroke-opacity="0.85" stroke-width="1.1"/>
<text transform="translate(247.50 238.75) scale(0.1)" x="0" y="0" font-family="Liberation Sans" font-size="28.50" font-weight="normal" text-anchor="start" fill="#222" stroke="#222" stroke-width="2.00">AveP+OO+OA training loss</text>
<line x1="240.5" y1="241.40" x2="245.9" y2="241.40" stroke="#0000ff" stroke-opacity="0.65" stroke-width="1.1" stroke-dasharray="1.3,0.6"/>
<text transform="translate(247.50 242.43) scale(0.1)" x="0" y="0" font-family="Liberation Sans" font-size="28.50" font-weight="normal" text-anchor="start" fill="#222" stroke="#222" stroke-width="2.00">AveP+OO+OA validation loss</text>
<line x1="240.5" y1="245.08" x2="245.9" y2="245.08" stroke="#ff0000" stroke-opacity="0.85" stroke-width="1.1"/>
<text transform="translate(247.50 246.11) scale(0.1)" x="0" y="0" font-family="Liberation Sans" font-size="28.50" font-weight="normal" text-anchor="start" fill="#222" stroke="#222" stroke-width="2.00">AveP+OO+OA+BN training loss</text>
<line x1="240.5" y1="248.76" x2="245.9" y2="248.76" stroke="#ff0000" stroke-opacity="0.65" stroke-width="1.1" stroke-dasharray="1.3,0.6"/>
<text transform="translate(247.50 249.79) scale(0.1)" x="0" y="0" font-family="Liberation Sans" font-size="28.50" font-weight="normal" text-anchor="start" fill="#222" stroke="#222" stroke-width="2.00">AveP+OO+OA+BN validation loss</text>
<text transform="translate(194.7 312.3) scale(0.968 1)" x="0" y="0" font-family="Liberation Serif" font-size="9.5" fill="#222"><tspan stroke="#222" stroke-width="0.2">(d)</tspan><tspan dx="1.5"> AvePooling-Loss.</tspan></text>
<clipPath id="cpe"><rect x="329.7" y="219.7" width="116.5" height="67.40000000000003"/></clipPath>
<g clip-path="url(#cpe)">
<polyline points="334.80,274.50 367.70,274.30" fill="none" stroke="#c2c42a" stroke-width="0.9" stroke-opacity="0.85" stroke-linejoin="round"/>
<polyline points="334.80,282.10 367.70,282.10" fill="none" stroke="#c2c42a" stroke-width="0.9" stroke-dasharray="1.5,0.5" stroke-opacity="0.65" stroke-linejoin="round"/>
<polyline points="334.80,275.20 343.50,274.20 353.20,274.00 367.70,273.90" fill="none" stroke="#bf00bf" stroke-width="0.9" stroke-opacity="0.85" stroke-linejoin="round"/>
<polyline points="334.80,275.70 341.10,276.10 346.30,276.10 347.50,278.00 348.80,281.30 350.80,282.10 367.70,282.10" fill="none" stroke="#bf00bf" stroke-width="0.9" stroke-dasharray="1.5,0.5" stroke-opacity="0.65" stroke-linejoin="round"/>
<polyline points="334.80,274.90 338.00,274.20 343.50,273.40 346.70,274.50 353.20,273.70 361.30,274.50 367.70,273.80" fill="none" stroke="#0000ff" stroke-width="0.9" stroke-opacity="0.85" stroke-linejoin="round"/>
<polyline points="334.80,276.90 337.80,280.10 339.50,284.20 341.10,281.00 342.70,281.70 351.00,281.70 353.20,279.30 355.20,282.10 367.70,282.10" fill="none" stroke="#0000ff" stroke-width="0.9" stroke-dasharray="1.5,0.5" stroke-opacity="0.65" stroke-linejoin="round"/>
<polyline points="335.20,268.50 337.20,266.50 339.80,258.60 343.10,255.40 345.50,256.00 347.70,254.70 349.50,256.00 351.60,252.10 355.50,247.50 358.00,249.00 361.40,244.20 364.10,248.20 368.00,245.50 371.90,238.30 375.90,241.00 379.80,238.30 381.70,242.90 385.00,240.30 390.30,238.00 395.70,236.00 399.70,231.30 403.00,234.70 406.30,232.00 409.60,231.30 413.00,228.70 417.60,228.70 421.00,226.00 424.30,223.30 426.30,230.70 428.30,225.30 431.60,224.00 435.00,224.50 437.60,222.70 440.30,222.40" fill="none" stroke="#ff0000" stroke-width="0.9" stroke-opacity="0.85" stroke-linejoin="round"/>
<polyline points="335.20,280.50 337.50,275.00 340.50,268.50 343.10,266.50 346.50,269.00 349.70,270.40 353.60,268.50 355.50,270.00 357.50,263.90 361.40,271.10 363.40,263.20 368.00,260.60 371.90,259.30 375.20,258.60 377.20,263.20 379.80,258.00 382.50,259.50 385.00,258.60 389.00,256.00 393.00,257.00 397.00,258.50 401.00,254.00 405.00,252.50 409.60,247.30 411.60,254.00 415.60,256.00 420.30,254.40 423.60,255.70 427.50,255.00 432.30,251.30 434.50,255.00 436.30,249.30 438.30,255.30 440.30,252.00" fill="none" stroke="#ff0000" stroke-width="0.9" stroke-dasharray="1.5,0.5" stroke-opacity="0.65" stroke-linejoin="round"/>
</g>
<rect x="329.7" y="219.7" width="116.5" height="67.40000000000003" fill="none" stroke="#7a7a7a" stroke-width="0.8"/>
<line x1="333.10" y1="287.1" x2="333.10" y2="288.3" stroke="#222" stroke-width="0.6"/>
<text transform="translate(333.10 291.00) scale(0.1)" x="0" y="0" font-family="Liberation Sans" font-size="27.00" font-weight="normal" text-anchor="middle" fill="#222" stroke="#222" stroke-width="2.00">0</text>
<line x1="353.36" y1="287.1" x2="353.36" y2="288.3" stroke="#222" stroke-width="0.6"/>
<text transform="translate(353.36 291.00) scale(0.1)" x="0" y="0" font-family="Liberation Sans" font-size="27.00" font-weight="normal" text-anchor="middle" fill="#222" stroke="#222" stroke-width="2.00">10</text>
<line x1="373.62" y1="287.1" x2="373.62" y2="288.3" stroke="#222" stroke-width="0.6"/>
<text transform="translate(373.62 291.00) scale(0.1)" x="0" y="0" font-family="Liberation Sans" font-size="27.00" font-weight="normal" text-anchor="middle" fill="#222" stroke="#222" stroke-width="2.00">20</text>
<line x1="393.88" y1="287.1" x2="393.88" y2="288.3" stroke="#222" stroke-width="0.6"/>
<text transform="translate(393.88 291.00) scale(0.1)" x="0" y="0" font-family="Liberation Sans" font-size="27.00" font-weight="normal" text-anchor="middle" fill="#222" stroke="#222" stroke-width="2.00">30</text>
<line x1="414.14" y1="287.1" x2="414.14" y2="288.3" stroke="#222" stroke-width="0.6"/>
<text transform="translate(414.14 291.00) scale(0.1)" x="0" y="0" font-family="Liberation Sans" font-size="27.00" font-weight="normal" text-anchor="middle" fill="#222" stroke="#222" stroke-width="2.00">40</text>
<line x1="434.40" y1="287.1" x2="434.40" y2="288.3" stroke="#222" stroke-width="0.6"/>
<text transform="translate(434.40 291.00) scale(0.1)" x="0" y="0" font-family="Liberation Sans" font-size="27.00" font-weight="normal" text-anchor="middle" fill="#222" stroke="#222" stroke-width="2.00">50</text>
<line x1="328.5" y1="286.80" x2="329.7" y2="286.80" stroke="#222" stroke-width="0.6"/>
<text transform="translate(327.90 287.77) scale(0.1)" x="0" y="0" font-family="Liberation Sans" font-size="27.00" font-weight="normal" text-anchor="end" fill="#222" stroke="#222" stroke-width="2.00">0.0</text>
<line x1="328.5" y1="275.60" x2="329.7" y2="275.60" stroke="#222" stroke-width="0.6"/>
<text transform="translate(327.90 276.57) scale(0.1)" x="0" y="0" font-family="Liberation Sans" font-size="27.00" font-weight="normal" text-anchor="end" fill="#222" stroke="#222" stroke-width="2.00">0.1</text>
<line x1="328.5" y1="264.40" x2="329.7" y2="264.40" stroke="#222" stroke-width="0.6"/>
<text transform="translate(327.90 265.37) scale(0.1)" x="0" y="0" font-family="Liberation Sans" font-size="27.00" font-weight="normal" text-anchor="end" fill="#222" stroke="#222" stroke-width="2.00">0.2</text>
<line x1="328.5" y1="253.20" x2="329.7" y2="253.20" stroke="#222" stroke-width="0.6"/>
<text transform="translate(327.90 254.17) scale(0.1)" x="0" y="0" font-family="Liberation Sans" font-size="27.00" font-weight="normal" text-anchor="end" fill="#222" stroke="#222" stroke-width="2.00">0.3</text>
<line x1="328.5" y1="242.00" x2="329.7" y2="242.00" stroke="#222" stroke-width="0.6"/>
<text transform="translate(327.90 242.97) scale(0.1)" x="0" y="0" font-family="Liberation Sans" font-size="27.00" font-weight="normal" text-anchor="end" fill="#222" stroke="#222" stroke-width="2.00">0.4</text>
<line x1="328.5" y1="230.80" x2="329.7" y2="230.80" stroke="#222" stroke-width="0.6"/>
<text transform="translate(327.90 231.77) scale(0.1)" x="0" y="0" font-family="Liberation Sans" font-size="27.00" font-weight="normal" text-anchor="end" fill="#222" stroke="#222" stroke-width="2.00">0.5</text>
<text transform="translate(387.95 295.00) scale(0.1)" x="0" y="0" font-family="Liberation Sans" font-size="27.50" font-weight="normal" text-anchor="middle" fill="#222" stroke="#222" stroke-width="2.00">Epochs</text>
<text transform="translate(323.00 253.40) rotate(-90) scale(0.1)" x="0" y="0" font-family="Liberation Sans" font-size="27.50" font-weight="normal" text-anchor="middle" fill="#222" stroke="#222" stroke-width="2.00">Accuracy(%)</text>
<text transform="translate(387.95 218.40) scale(1.03 1) scale(0.1)" x="0" y="0" font-family="Liberation Sans" font-size="49.00" font-weight="bold" text-anchor="middle" fill="#222" stroke="#222" stroke-width="2.50">Training and validation accu &amp; loss</text>
<text transform="translate(386.00 213.00) scale(0.1)" x="0" y="0" font-family="Liberation Sans" font-size="27.00" font-weight="normal" text-anchor="middle" fill="#222" stroke="#222" stroke-width="0.50">FMD10</text>
<rect x="391.0" y="256.40000000000003" width="54.0" height="29.399999999999977" fill="#fff" fill-opacity="0.92" stroke="#e0e0e0" stroke-width="0.6" rx="1"/>
<line x1="392.2" y1="258.40" x2="397.6" y2="258.40" stroke="#c2c42a" stroke-opacity="0.85" stroke-width="1.1"/>
<text transform="translate(399.20 259.43) scale(0.1)" x="0" y="0" font-family="Liberation Sans" font-size="28.50" font-weight="normal" text-anchor="start" fill="#222" stroke="#222" stroke-width="2.00">DWTP training acc</text>
<line x1="392.2" y1="262.08" x2="397.6" y2="262.08" stroke="#c2c42a" stroke-opacity="0.65" stroke-width="1.1" stroke-dasharray="1.3,0.6"/>
<text transform="translate(399.20 263.11) scale(0.1)" x="0" y="0" font-family="Liberation Sans" font-size="28.50" font-weight="normal" text-anchor="start" fill="#222" stroke="#222" stroke-width="2.00">DWTP validation acc</text>
<line x1="392.2" y1="265.76" x2="397.6" y2="265.76" stroke="#bf00bf" stroke-opacity="0.85" stroke-width="1.1"/>
<text transform="translate(399.20 266.79) scale(0.1)" x="0" y="0" font-family="Liberation Sans" font-size="28.50" font-weight="normal" text-anchor="start" fill="#222" stroke="#222" stroke-width="2.00">DWTP+OO training acc</text>
<line x1="392.2" y1="269.44" x2="397.6" y2="269.44" stroke="#bf00bf" stroke-opacity="0.65" stroke-width="1.1" stroke-dasharray="1.3,0.6"/>
<text transform="translate(399.20 270.47) scale(0.1)" x="0" y="0" font-family="Liberation Sans" font-size="28.50" font-weight="normal" text-anchor="start" fill="#222" stroke="#222" stroke-width="2.00">DWTP+OO validation acc</text>
<line x1="392.2" y1="273.12" x2="397.6" y2="273.12" stroke="#0000ff" stroke-opacity="0.85" stroke-width="1.1"/>
<text transform="translate(399.20 274.15) scale(0.1)" x="0" y="0" font-family="Liberation Sans" font-size="28.50" font-weight="normal" text-anchor="start" fill="#222" stroke="#222" stroke-width="2.00">DWTP+OO+OA training acc</text>
<line x1="392.2" y1="276.80" x2="397.6" y2="276.80" stroke="#0000ff" stroke-opacity="0.65" stroke-width="1.1" stroke-dasharray="1.3,0.6"/>
<text transform="translate(399.20 277.83) scale(0.1)" x="0" y="0" font-family="Liberation Sans" font-size="28.50" font-weight="normal" text-anchor="start" fill="#222" stroke="#222" stroke-width="2.00">DWTP+OO+OA validation acc</text>
<line x1="392.2" y1="280.48" x2="397.6" y2="280.48" stroke="#ff0000" stroke-opacity="0.85" stroke-width="1.1"/>
<text transform="translate(399.20 281.51) scale(0.1)" x="0" y="0" font-family="Liberation Sans" font-size="28.50" font-weight="normal" text-anchor="start" fill="#222" stroke="#222" stroke-width="2.00">DWTP+OO+OA+BN training acc</text>
<line x1="392.2" y1="284.16" x2="397.6" y2="284.16" stroke="#ff0000" stroke-opacity="0.65" stroke-width="1.1" stroke-dasharray="1.3,0.6"/>
<text transform="translate(399.20 285.19) scale(0.1)" x="0" y="0" font-family="Liberation Sans" font-size="28.50" font-weight="normal" text-anchor="start" fill="#222" stroke="#222" stroke-width="2.00">DWTP+OO+OA+BN validation acc</text>
<text transform="translate(346.9 312.3) scale(0.938 1)" x="0" y="0" font-family="Liberation Serif" font-size="9.5" fill="#222"><tspan stroke="#222" stroke-width="0.2">(e)</tspan><tspan dx="1.5"> DWTPooling-Acc.</tspan></text>
<clipPath id="cpf"><rect x="25.4" y="336" width="116.0" height="67.5"/></clipPath>
<g clip-path="url(#cpf)">
<polyline points="30.60,380.20 62.70,380.20" fill="none" stroke="#7070ff" stroke-width="1.3" stroke-opacity="0.85" stroke-linejoin="round"/>
<polyline points="30.60,363.20 32.60,371.00 35.20,376.30 39.10,380.20 44.00,381.50 49.60,384.20 53.50,386.10 57.40,388.10 60.70,386.80 65.30,389.40 69.20,391.40 73.50,391.00 78.40,390.50 82.00,391.90 85.50,392.20 89.20,392.50 93.80,395.10 99.00,394.50 103.60,397.80 105.60,395.80 108.50,397.50 113.40,397.80 119.30,400.10 122.00,397.50 126.50,400.10 131.00,400.40 135.70,400.40" fill="none" stroke="#ff0000" stroke-width="0.9" stroke-opacity="0.85" stroke-linejoin="round"/>
<polyline points="32.60,339.00 33.50,360.00 34.50,371.70 36.50,374.30 39.10,375.60 42.00,374.50 45.70,373.00 49.60,375.00 52.90,378.30 56.80,368.40 58.80,376.30 61.40,381.50 65.00,381.00 69.20,380.20 73.20,378.70 76.40,380.90 79.00,382.00 82.00,381.40 85.30,377.40 87.90,381.40 90.50,381.40 93.80,383.30 98.40,380.50 101.50,381.40 105.60,385.30 109.50,380.50 111.50,379.50 113.40,375.20 116.70,380.70 119.50,379.40 125.20,376.50 128.50,381.40 131.80,382.00 134.40,378.10 136.40,379.40" fill="none" stroke="#ff0000" stroke-width="0.9" stroke-dasharray="1.5,0.5" stroke-opacity="0.65" stroke-linejoin="round"/>
</g>
<rect x="25.4" y="336" width="116.0" height="67.5" fill="none" stroke="#7a7a7a" stroke-width="0.8"/>
<line x1="28.40" y1="403.5" x2="28.40" y2="404.7" stroke="#222" stroke-width="0.6"/>
<text transform="translate(28.40 407.40) scale(0.1)" x="0" y="0" font-family="Liberation Sans" font-size="27.00" font-weight="normal" text-anchor="middle" fill="#222" stroke="#222" stroke-width="2.00">0</text>
<line x1="48.74" y1="403.5" x2="48.74" y2="404.7" stroke="#222" stroke-width="0.6"/>
<text transform="translate(48.74 407.40) scale(0.1)" x="0" y="0" font-family="Liberation Sans" font-size="27.00" font-weight="normal" text-anchor="middle" fill="#222" stroke="#222" stroke-width="2.00">10</text>
<line x1="69.08" y1="403.5" x2="69.08" y2="404.7" stroke="#222" stroke-width="0.6"/>
<text transform="translate(69.08 407.40) scale(0.1)" x="0" y="0" font-family="Liberation Sans" font-size="27.00" font-weight="normal" text-anchor="middle" fill="#222" stroke="#222" stroke-width="2.00">20</text>
<line x1="89.42" y1="403.5" x2="89.42" y2="404.7" stroke="#222" stroke-width="0.6"/>
<text transform="translate(89.42 407.40) scale(0.1)" x="0" y="0" font-family="Liberation Sans" font-size="27.00" font-weight="normal" text-anchor="middle" fill="#222" stroke="#222" stroke-width="2.00">30</text>
<line x1="109.76" y1="403.5" x2="109.76" y2="404.7" stroke="#222" stroke-width="0.6"/>
<text transform="translate(109.76 407.40) scale(0.1)" x="0" y="0" font-family="Liberation Sans" font-size="27.00" font-weight="normal" text-anchor="middle" fill="#222" stroke="#222" stroke-width="2.00">40</text>
<line x1="130.10" y1="403.5" x2="130.10" y2="404.7" stroke="#222" stroke-width="0.6"/>
<text transform="translate(130.10 407.40) scale(0.1)" x="0" y="0" font-family="Liberation Sans" font-size="27.00" font-weight="normal" text-anchor="middle" fill="#222" stroke="#222" stroke-width="2.00">50</text>
<line x1="24.2" y1="395.60" x2="25.4" y2="395.60" stroke="#222" stroke-width="0.6"/>
<text transform="translate(23.60 396.57) scale(0.1)" x="0" y="0" font-family="Liberation Sans" font-size="27.00" font-weight="normal" text-anchor="end" fill="#222" stroke="#222" stroke-width="2.00">1.5</text>
<line x1="24.2" y1="386.03" x2="25.4" y2="386.03" stroke="#222" stroke-width="0.6"/>
<text transform="translate(23.60 387.01) scale(0.1)" x="0" y="0" font-family="Liberation Sans" font-size="27.00" font-weight="normal" text-anchor="end" fill="#222" stroke="#222" stroke-width="2.00">2.0</text>
<line x1="24.2" y1="376.47" x2="25.4" y2="376.47" stroke="#222" stroke-width="0.6"/>
<text transform="translate(23.60 377.44) scale(0.1)" x="0" y="0" font-family="Liberation Sans" font-size="27.00" font-weight="normal" text-anchor="end" fill="#222" stroke="#222" stroke-width="2.00">2.5</text>
<line x1="24.2" y1="366.90" x2="25.4" y2="366.90" stroke="#222" stroke-width="0.6"/>
<text transform="translate(23.60 367.87) scale(0.1)" x="0" y="0" font-family="Liberation Sans" font-size="27.00" font-weight="normal" text-anchor="end" fill="#222" stroke="#222" stroke-width="2.00">3.0</text>
<line x1="24.2" y1="357.33" x2="25.4" y2="357.33" stroke="#222" stroke-width="0.6"/>
<text transform="translate(23.60 358.31) scale(0.1)" x="0" y="0" font-family="Liberation Sans" font-size="27.00" font-weight="normal" text-anchor="end" fill="#222" stroke="#222" stroke-width="2.00">3.5</text>
<line x1="24.2" y1="347.77" x2="25.4" y2="347.77" stroke="#222" stroke-width="0.6"/>
<text transform="translate(23.60 348.74) scale(0.1)" x="0" y="0" font-family="Liberation Sans" font-size="27.00" font-weight="normal" text-anchor="end" fill="#222" stroke="#222" stroke-width="2.00">4.0</text>
<line x1="24.2" y1="338.20" x2="25.4" y2="338.20" stroke="#222" stroke-width="0.6"/>
<text transform="translate(23.60 339.17) scale(0.1)" x="0" y="0" font-family="Liberation Sans" font-size="27.00" font-weight="normal" text-anchor="end" fill="#222" stroke="#222" stroke-width="2.00">4.5</text>
<text transform="translate(83.40 411.40) scale(0.1)" x="0" y="0" font-family="Liberation Sans" font-size="27.50" font-weight="normal" text-anchor="middle" fill="#222" stroke="#222" stroke-width="2.00">Epochs</text>
<text transform="translate(18.70 369.75) rotate(-90) scale(0.1)" x="0" y="0" font-family="Liberation Sans" font-size="27.50" font-weight="normal" text-anchor="middle" fill="#222" stroke="#222" stroke-width="2.00">Loss (%)</text>
<text transform="translate(83.40 334.70) scale(1.03 1) scale(0.1)" x="0" y="0" font-family="Liberation Sans" font-size="49.00" font-weight="bold" text-anchor="middle" fill="#222" stroke="#222" stroke-width="2.50">Training and validation accu &amp; loss</text>
<text transform="translate(80.60 329.00) scale(0.1)" x="0" y="0" font-family="Liberation Sans" font-size="27.00" font-weight="normal" text-anchor="middle" fill="#222" stroke="#222" stroke-width="0.50">FMD10</text>
<rect x="84.8" y="337.3" width="55.39999999999999" height="29.399999999999977" fill="#fff" fill-opacity="0.92" stroke="#e0e0e0" stroke-width="0.6" rx="1"/>
<line x1="86.0" y1="339.30" x2="91.39999999999999" y2="339.30" stroke="#c2c42a" stroke-opacity="0.85" stroke-width="1.1"/>
<text transform="translate(93.00 340.33) scale(0.1)" x="0" y="0" font-family="Liberation Sans" font-size="28.50" font-weight="normal" text-anchor="start" fill="#222" stroke="#222" stroke-width="2.00">DWTP training loss</text>
<line x1="86.0" y1="342.98" x2="91.39999999999999" y2="342.98" stroke="#c2c42a" stroke-opacity="0.65" stroke-width="1.1" stroke-dasharray="1.3,0.6"/>
<text transform="translate(93.00 344.01) scale(0.1)" x="0" y="0" font-family="Liberation Sans" font-size="28.50" font-weight="normal" text-anchor="start" fill="#222" stroke="#222" stroke-width="2.00">DWTP validation loss</text>
<line x1="86.0" y1="346.66" x2="91.39999999999999" y2="346.66" stroke="#bf00bf" stroke-opacity="0.85" stroke-width="1.1"/>
<text transform="translate(93.00 347.69) scale(0.1)" x="0" y="0" font-family="Liberation Sans" font-size="28.50" font-weight="normal" text-anchor="start" fill="#222" stroke="#222" stroke-width="2.00">DWTP+OO training loss</text>
<line x1="86.0" y1="350.34" x2="91.39999999999999" y2="350.34" stroke="#bf00bf" stroke-opacity="0.65" stroke-width="1.1" stroke-dasharray="1.3,0.6"/>
<text transform="translate(93.00 351.37) scale(0.1)" x="0" y="0" font-family="Liberation Sans" font-size="28.50" font-weight="normal" text-anchor="start" fill="#222" stroke="#222" stroke-width="2.00">DWTP+OO validation loss</text>
<line x1="86.0" y1="354.02" x2="91.39999999999999" y2="354.02" stroke="#0000ff" stroke-opacity="0.85" stroke-width="1.1"/>
<text transform="translate(93.00 355.05) scale(0.1)" x="0" y="0" font-family="Liberation Sans" font-size="28.50" font-weight="normal" text-anchor="start" fill="#222" stroke="#222" stroke-width="2.00">DWTP+OO+OA training loss</text>
<line x1="86.0" y1="357.70" x2="91.39999999999999" y2="357.70" stroke="#0000ff" stroke-opacity="0.65" stroke-width="1.1" stroke-dasharray="1.3,0.6"/>
<text transform="translate(93.00 358.73) scale(0.1)" x="0" y="0" font-family="Liberation Sans" font-size="28.50" font-weight="normal" text-anchor="start" fill="#222" stroke="#222" stroke-width="2.00">DWTP+OO+OA validation loss</text>
<line x1="86.0" y1="361.38" x2="91.39999999999999" y2="361.38" stroke="#ff0000" stroke-opacity="0.85" stroke-width="1.1"/>
<text transform="translate(93.00 362.41) scale(0.1)" x="0" y="0" font-family="Liberation Sans" font-size="28.50" font-weight="normal" text-anchor="start" fill="#222" stroke="#222" stroke-width="2.00">DWTP+OO+OA+BN training loss</text>
<line x1="86.0" y1="365.06" x2="91.39999999999999" y2="365.06" stroke="#ff0000" stroke-opacity="0.65" stroke-width="1.1" stroke-dasharray="1.3,0.6"/>
<text transform="translate(93.00 366.09) scale(0.1)" x="0" y="0" font-family="Liberation Sans" font-size="28.50" font-weight="normal" text-anchor="start" fill="#222" stroke="#222" stroke-width="2.00">DWTP+OO+OA+BN validation loss</text>
<text transform="translate(41.0 427.3) scale(0.943 1)" x="0" y="0" font-family="Liberation Serif" font-size="9.5" fill="#222"><tspan stroke="#222" stroke-width="0.2">(f)</tspan><tspan dx="1.5"> DWTPooling-Loss.</tspan></text>
<clipPath id="cpg"><rect x="177.3" y="336.2" width="116.09999999999997" height="67.30000000000001"/></clipPath>
<g clip-path="url(#cpg)">
<polyline points="183.20,400.50 214.70,400.50" fill="none" stroke="#d4d450" stroke-width="0.9" stroke-dasharray="1.5,0.5" stroke-opacity="0.65" stroke-linejoin="round"/>
<polyline points="183.20,392.00 214.70,392.00" fill="none" stroke="#9090ff" stroke-width="1.4" stroke-opacity="0.85" stroke-linejoin="round"/>
<polyline points="183.20,394.00 214.70,394.00" fill="none" stroke="#d070d0" stroke-width="0.8" stroke-opacity="0.85" stroke-linejoin="round"/>
<polyline points="183.20,394.00 188.50,393.30 192.50,393.30 195.70,395.30 199.00,392.80 202.20,395.30 205.50,393.30 208.80,395.30 211.50,392.80 214.70,396.00" fill="none" stroke="#0000ff" stroke-width="0.9" stroke-opacity="0.85" stroke-linejoin="round"/>
<polyline points="183.20,389.40 185.20,380.20 187.20,377.60 189.20,377.00 191.10,369.10 193.70,374.30 197.70,371.70 200.30,367.10 204.20,362.20 207.50,367.10 210.10,361.20 212.70,366.50 215.30,360.60 219.90,359.90 222.50,358.00 225.20,359.30 229.10,354.00 231.70,357.30 235.90,354.00 239.20,352.10 242.00,352.80 245.80,354.70 247.70,351.40 250.30,345.50 252.30,351.40 256.20,348.80 260.20,346.20 262.80,340.90 264.80,348.10 268.00,343.60 270.60,341.60 273.30,344.20 275.90,340.30 279.80,339.60 283.00,340.30 286.40,342.90 288.30,340.30" fill="none" stroke="#ff0000" stroke-width="0.9" stroke-opacity="0.85" stroke-linejoin="round"/>
<polyline points="183.20,394.60 187.20,392.00 189.80,382.20 192.40,383.50 195.00,386.80 197.70,383.50 201.00,385.50 204.20,386.80 206.80,386.00 208.80,382.20 212.10,380.20 214.70,372.40 217.30,377.60 222.50,374.30 225.80,377.60 229.10,369.80 232.00,371.10 237.20,375.00 241.00,375.00 245.10,371.70 248.00,373.50 252.00,373.00 255.60,366.50 258.20,365.20 262.10,367.80 266.70,369.10 270.00,366.10 275.20,367.10 279.50,368.50 284.40,368.20 286.50,368.50 287.70,372.10" fill="none" stroke="#ff0000" stroke-width="0.9" stroke-dasharray="1.5,0.5" stroke-opacity="0.65" stroke-linejoin="round"/>
</g>
<rect x="177.3" y="336.2" width="116.09999999999997" height="67.30000000000001" fill="none" stroke="#7a7a7a" stroke-width="0.8"/>
<line x1="180.80" y1="403.5" x2="180.80" y2="404.7" stroke="#222" stroke-width="0.6"/>
<text transform="translate(180.80 407.40) scale(0.1)" x="0" y="0" font-family="Liberation Sans" font-size="27.00" font-weight="normal" text-anchor="middle" fill="#222" stroke="#222" stroke-width="2.00">0</text>
<line x1="201.90" y1="403.5" x2="201.90" y2="404.7" stroke="#222" stroke-width="0.6"/>
<text transform="translate(201.90 407.40) scale(0.1)" x="0" y="0" font-family="Liberation Sans" font-size="27.00" font-weight="normal" text-anchor="middle" fill="#222" stroke="#222" stroke-width="2.00">10</text>
<line x1="223.00" y1="403.5" x2="223.00" y2="404.7" stroke="#222" stroke-width="0.6"/>
<text transform="translate(223.00 407.40) scale(0.1)" x="0" y="0" font-family="Liberation Sans" font-size="27.00" font-weight="normal" text-anchor="middle" fill="#222" stroke="#222" stroke-width="2.00">20</text>
<line x1="244.10" y1="403.5" x2="244.10" y2="404.7" stroke="#222" stroke-width="0.6"/>
<text transform="translate(244.10 407.40) scale(0.1)" x="0" y="0" font-family="Liberation Sans" font-size="27.00" font-weight="normal" text-anchor="middle" fill="#222" stroke="#222" stroke-width="2.00">30</text>
<line x1="265.20" y1="403.5" x2="265.20" y2="404.7" stroke="#222" stroke-width="0.6"/>
<text transform="translate(265.20 407.40) scale(0.1)" x="0" y="0" font-family="Liberation Sans" font-size="27.00" font-weight="normal" text-anchor="middle" fill="#222" stroke="#222" stroke-width="2.00">40</text>
<line x1="286.30" y1="403.5" x2="286.30" y2="404.7" stroke="#222" stroke-width="0.6"/>
<text transform="translate(286.30 407.40) scale(0.1)" x="0" y="0" font-family="Liberation Sans" font-size="27.00" font-weight="normal" text-anchor="middle" fill="#222" stroke="#222" stroke-width="2.00">50</text>
<line x1="176.10000000000002" y1="393.80" x2="177.3" y2="393.80" stroke="#222" stroke-width="0.6"/>
<text transform="translate(175.50 394.77) scale(0.1)" x="0" y="0" font-family="Liberation Sans" font-size="27.00" font-weight="normal" text-anchor="end" fill="#222" stroke="#222" stroke-width="2.00">0.1</text>
<line x1="176.10000000000002" y1="382.18" x2="177.3" y2="382.18" stroke="#222" stroke-width="0.6"/>
<text transform="translate(175.50 383.15) scale(0.1)" x="0" y="0" font-family="Liberation Sans" font-size="27.00" font-weight="normal" text-anchor="end" fill="#222" stroke="#222" stroke-width="2.00">0.2</text>
<line x1="176.10000000000002" y1="370.55" x2="177.3" y2="370.55" stroke="#222" stroke-width="0.6"/>
<text transform="translate(175.50 371.52) scale(0.1)" x="0" y="0" font-family="Liberation Sans" font-size="27.00" font-weight="normal" text-anchor="end" fill="#222" stroke="#222" stroke-width="2.00">0.3</text>
<line x1="176.10000000000002" y1="358.93" x2="177.3" y2="358.93" stroke="#222" stroke-width="0.6"/>
<text transform="translate(175.50 359.90) scale(0.1)" x="0" y="0" font-family="Liberation Sans" font-size="27.00" font-weight="normal" text-anchor="end" fill="#222" stroke="#222" stroke-width="2.00">0.4</text>
<line x1="176.10000000000002" y1="347.30" x2="177.3" y2="347.30" stroke="#222" stroke-width="0.6"/>
<text transform="translate(175.50 348.27) scale(0.1)" x="0" y="0" font-family="Liberation Sans" font-size="27.00" font-weight="normal" text-anchor="end" fill="#222" stroke="#222" stroke-width="2.00">0.5</text>
<text transform="translate(235.35 411.40) scale(0.1)" x="0" y="0" font-family="Liberation Sans" font-size="27.50" font-weight="normal" text-anchor="middle" fill="#222" stroke="#222" stroke-width="2.00">Epochs</text>
<text transform="translate(170.10 369.85) rotate(-90) scale(0.1)" x="0" y="0" font-family="Liberation Sans" font-size="27.50" font-weight="normal" text-anchor="middle" fill="#222" stroke="#222" stroke-width="2.00">Accuracy(%)</text>
<text transform="translate(235.35 334.90) scale(1.03 1) scale(0.1)" x="0" y="0" font-family="Liberation Sans" font-size="49.00" font-weight="bold" text-anchor="middle" fill="#222" stroke="#222" stroke-width="2.50">Training and validation accu &amp; loss</text>
<text transform="translate(234.00 329.00) scale(0.1)" x="0" y="0" font-family="Liberation Sans" font-size="27.00" font-weight="normal" text-anchor="middle" fill="#222" stroke="#222" stroke-width="0.50">FMD10</text>
<rect x="236.7" y="372.8" width="55.5" height="29.399999999999977" fill="#fff" fill-opacity="0.92" stroke="#e0e0e0" stroke-width="0.6" rx="1"/>
<line x1="237.89999999999998" y1="374.80" x2="243.29999999999998" y2="374.80" stroke="#c2c42a" stroke-opacity="0.85" stroke-width="1.1"/>
<text transform="translate(244.90 375.83) scale(0.1)" x="0" y="0" font-family="Liberation Sans" font-size="28.50" font-weight="normal" text-anchor="start" fill="#222" stroke="#222" stroke-width="2.00">DWTaP training acc</text>
<line x1="237.89999999999998" y1="378.48" x2="243.29999999999998" y2="378.48" stroke="#c2c42a" stroke-opacity="0.65" stroke-width="1.1" stroke-dasharray="1.3,0.6"/>
<text transform="translate(244.90 379.51) scale(0.1)" x="0" y="0" font-family="Liberation Sans" font-size="28.50" font-weight="normal" text-anchor="start" fill="#222" stroke="#222" stroke-width="2.00">DWTaP validation acc</text>
<line x1="237.89999999999998" y1="382.16" x2="243.29999999999998" y2="382.16" stroke="#bf00bf" stroke-opacity="0.85" stroke-width="1.1"/>
<text transform="translate(244.90 383.19) scale(0.1)" x="0" y="0" font-family="Liberation Sans" font-size="28.50" font-weight="normal" text-anchor="start" fill="#222" stroke="#222" stroke-width="2.00">DWTaP+OO training acc</text>
<line x1="237.89999999999998" y1="385.84" x2="243.29999999999998" y2="385.84" stroke="#bf00bf" stroke-opacity="0.65" stroke-width="1.1" stroke-dasharray="1.3,0.6"/>
<text transform="translate(244.90 386.87) scale(0.1)" x="0" y="0" font-family="Liberation Sans" font-size="28.50" font-weight="normal" text-anchor="start" fill="#222" stroke="#222" stroke-width="2.00">DWTaP+OO validation acc</text>
<line x1="237.89999999999998" y1="389.52" x2="243.29999999999998" y2="389.52" stroke="#0000ff" stroke-opacity="0.85" stroke-width="1.1"/>
<text transform="translate(244.90 390.55) scale(0.1)" x="0" y="0" font-family="Liberation Sans" font-size="28.50" font-weight="normal" text-anchor="start" fill="#222" stroke="#222" stroke-width="2.00">DWTaP+OO+OA training acc</text>
<line x1="237.89999999999998" y1="393.20" x2="243.29999999999998" y2="393.20" stroke="#0000ff" stroke-opacity="0.65" stroke-width="1.1" stroke-dasharray="1.3,0.6"/>
<text transform="translate(244.90 394.23) scale(0.1)" x="0" y="0" font-family="Liberation Sans" font-size="28.50" font-weight="normal" text-anchor="start" fill="#222" stroke="#222" stroke-width="2.00">DWTaP+OO+OA validation acc</text>
<line x1="237.89999999999998" y1="396.88" x2="243.29999999999998" y2="396.88" stroke="#ff0000" stroke-opacity="0.85" stroke-width="1.1"/>
<text transform="translate(244.90 397.91) scale(0.1)" x="0" y="0" font-family="Liberation Sans" font-size="28.50" font-weight="normal" text-anchor="start" fill="#222" stroke="#222" stroke-width="2.00">DWTaP+OO+OA+BN training acc</text>
<line x1="237.89999999999998" y1="400.56" x2="243.29999999999998" y2="400.56" stroke="#ff0000" stroke-opacity="0.65" stroke-width="1.1" stroke-dasharray="1.3,0.6"/>
<text transform="translate(244.90 401.59) scale(0.1)" x="0" y="0" font-family="Liberation Sans" font-size="28.50" font-weight="normal" text-anchor="start" fill="#222" stroke="#222" stroke-width="2.00">DWTaP+OO+OA+BN validation acc</text>
<text transform="translate(191.9 427.3) scale(0.948 1)" x="0" y="0" font-family="Liberation Serif" font-size="9.5" fill="#222"><tspan stroke="#222" stroke-width="0.2">(g)</tspan><tspan dx="1.5"> DWTaPooling-Acc.</tspan></text>
<clipPath id="cph"><rect x="329.7" y="336.2" width="116.0" height="67.30000000000001"/></clipPath>
<g clip-path="url(#cph)">
<polyline points="335.20,387.40 367.30,387.40" fill="none" stroke="#d4d450" stroke-width="1.3" stroke-opacity="0.85" stroke-linejoin="round"/>
<polyline points="335.20,376.30 337.90,382.20 341.80,384.20 347.00,387.40 353.60,390.70 361.40,392.00 368.00,393.30 375.90,394.60 382.40,395.30 385.00,395.10 392.90,396.40 400.00,397.30 407.30,397.80 411.20,398.80 415.10,399.70 417.00,398.70 420.40,399.70 426.90,400.40 434.00,400.40 440.70,400.60" fill="none" stroke="#ff0000" stroke-width="0.9" stroke-opacity="0.85" stroke-linejoin="round"/>
<polyline points="337.20,339.00 338.00,360.00 339.20,375.00 341.80,380.20 345.70,379.60 347.70,381.30 351.60,378.30 354.00,379.60 356.90,383.50 360.10,382.90 364.10,384.80 368.00,387.40 372.00,385.50 376.50,382.90 379.00,385.50 382.40,388.10 385.00,387.90 387.60,386.00 390.00,385.80 392.20,382.00 395.50,386.60 398.50,387.20 402.00,386.60 404.70,384.70 407.50,387.00 410.50,389.20 414.00,388.00 417.80,385.30 421.50,386.50 425.60,387.30 429.50,388.30 434.10,384.40 436.70,386.20 440.00,383.10" fill="none" stroke="#ff0000" stroke-width="0.9" stroke-dasharray="1.5,0.5" stroke-opacity="0.65" stroke-linejoin="round"/>
</g>
<rect x="329.7" y="336.2" width="116.0" height="67.30000000000001" fill="none" stroke="#7a7a7a" stroke-width="0.8"/>
<line x1="333.20" y1="403.5" x2="333.20" y2="404.7" stroke="#222" stroke-width="0.6"/>
<text transform="translate(333.20 407.40) scale(0.1)" x="0" y="0" font-family="Liberation Sans" font-size="27.00" font-weight="normal" text-anchor="middle" fill="#222" stroke="#222" stroke-width="2.00">0</text>
<line x1="354.30" y1="403.5" x2="354.30" y2="404.7" stroke="#222" stroke-width="0.6"/>
<text transform="translate(354.30 407.40) scale(0.1)" x="0" y="0" font-family="Liberation Sans" font-size="27.00" font-weight="normal" text-anchor="middle" fill="#222" stroke="#222" stroke-width="2.00">10</text>
<line x1="375.40" y1="403.5" x2="375.40" y2="404.7" stroke="#222" stroke-width="0.6"/>
<text transform="translate(375.40 407.40) scale(0.1)" x="0" y="0" font-family="Liberation Sans" font-size="27.00" font-weight="normal" text-anchor="middle" fill="#222" stroke="#222" stroke-width="2.00">20</text>
<line x1="396.50" y1="403.5" x2="396.50" y2="404.7" stroke="#222" stroke-width="0.6"/>
<text transform="translate(396.50 407.40) scale(0.1)" x="0" y="0" font-family="Liberation Sans" font-size="27.00" font-weight="normal" text-anchor="middle" fill="#222" stroke="#222" stroke-width="2.00">30</text>
<line x1="417.60" y1="403.5" x2="417.60" y2="404.7" stroke="#222" stroke-width="0.6"/>
<text transform="translate(417.60 407.40) scale(0.1)" x="0" y="0" font-family="Liberation Sans" font-size="27.00" font-weight="normal" text-anchor="middle" fill="#222" stroke="#222" stroke-width="2.00">40</text>
<line x1="438.70" y1="403.5" x2="438.70" y2="404.7" stroke="#222" stroke-width="0.6"/>
<text transform="translate(438.70 407.40) scale(0.1)" x="0" y="0" font-family="Liberation Sans" font-size="27.00" font-weight="normal" text-anchor="middle" fill="#222" stroke="#222" stroke-width="2.00">50</text>
<line x1="328.5" y1="403.80" x2="329.7" y2="403.80" stroke="#222" stroke-width="0.6"/>
<text transform="translate(327.90 404.77) scale(0.1)" x="0" y="0" font-family="Liberation Sans" font-size="27.00" font-weight="normal" text-anchor="end" fill="#222" stroke="#222" stroke-width="2.00">1</text>
<line x1="328.5" y1="391.58" x2="329.7" y2="391.58" stroke="#222" stroke-width="0.6"/>
<text transform="translate(327.90 392.55) scale(0.1)" x="0" y="0" font-family="Liberation Sans" font-size="27.00" font-weight="normal" text-anchor="end" fill="#222" stroke="#222" stroke-width="2.00">2</text>
<line x1="328.5" y1="379.36" x2="329.7" y2="379.36" stroke="#222" stroke-width="0.6"/>
<text transform="translate(327.90 380.33) scale(0.1)" x="0" y="0" font-family="Liberation Sans" font-size="27.00" font-weight="normal" text-anchor="end" fill="#222" stroke="#222" stroke-width="2.00">3</text>
<line x1="328.5" y1="367.14" x2="329.7" y2="367.14" stroke="#222" stroke-width="0.6"/>
<text transform="translate(327.90 368.11) scale(0.1)" x="0" y="0" font-family="Liberation Sans" font-size="27.00" font-weight="normal" text-anchor="end" fill="#222" stroke="#222" stroke-width="2.00">4</text>
<line x1="328.5" y1="354.92" x2="329.7" y2="354.92" stroke="#222" stroke-width="0.6"/>
<text transform="translate(327.90 355.89) scale(0.1)" x="0" y="0" font-family="Liberation Sans" font-size="27.00" font-weight="normal" text-anchor="end" fill="#222" stroke="#222" stroke-width="2.00">5</text>
<line x1="328.5" y1="342.70" x2="329.7" y2="342.70" stroke="#222" stroke-width="0.6"/>
<text transform="translate(327.90 343.67) scale(0.1)" x="0" y="0" font-family="Liberation Sans" font-size="27.00" font-weight="normal" text-anchor="end" fill="#222" stroke="#222" stroke-width="2.00">6</text>
<text transform="translate(387.70 411.40) scale(0.1)" x="0" y="0" font-family="Liberation Sans" font-size="27.50" font-weight="normal" text-anchor="middle" fill="#222" stroke="#222" stroke-width="2.00">Epochs</text>
<text transform="translate(325.70 369.85) rotate(-90) scale(0.1)" x="0" y="0" font-family="Liberation Sans" font-size="27.50" font-weight="normal" text-anchor="middle" fill="#222" stroke="#222" stroke-width="2.00">Loss (%)</text>
<text transform="translate(387.70 334.90) scale(1.03 1) scale(0.1)" x="0" y="0" font-family="Liberation Sans" font-size="49.00" font-weight="bold" text-anchor="middle" fill="#222" stroke="#222" stroke-width="2.50">Training and validation accu &amp; loss</text>
<text transform="translate(386.00 329.00) scale(0.1)" x="0" y="0" font-family="Liberation Sans" font-size="27.00" font-weight="normal" text-anchor="middle" fill="#222" stroke="#222" stroke-width="0.50">FMD10</text>
<rect x="388.0" y="337.5" width="56.5" height="29.399999999999977" fill="#fff" fill-opacity="0.92" stroke="#e0e0e0" stroke-width="0.6" rx="1"/>
<line x1="389.2" y1="339.50" x2="394.6" y2="339.50" stroke="#c2c42a" stroke-opacity="0.85" stroke-width="1.1"/>
<text transform="translate(396.20 340.53) scale(0.1)" x="0" y="0" font-family="Liberation Sans" font-size="28.50" font-weight="normal" text-anchor="start" fill="#222" stroke="#222" stroke-width="2.00">DWTaP training loss</text>
<line x1="389.2" y1="343.18" x2="394.6" y2="343.18" stroke="#c2c42a" stroke-opacity="0.65" stroke-width="1.1" stroke-dasharray="1.3,0.6"/>
<text transform="translate(396.20 344.21) scale(0.1)" x="0" y="0" font-family="Liberation Sans" font-size="28.50" font-weight="normal" text-anchor="start" fill="#222" stroke="#222" stroke-width="2.00">DWTaP validation loss</text>
<line x1="389.2" y1="346.86" x2="394.6" y2="346.86" stroke="#bf00bf" stroke-opacity="0.85" stroke-width="1.1"/>
<text transform="translate(396.20 347.89) scale(0.1)" x="0" y="0" font-family="Liberation Sans" font-size="28.50" font-weight="normal" text-anchor="start" fill="#222" stroke="#222" stroke-width="2.00">DWTaP+OO training loss</text>
<line x1="389.2" y1="350.54" x2="394.6" y2="350.54" stroke="#bf00bf" stroke-opacity="0.65" stroke-width="1.1" stroke-dasharray="1.3,0.6"/>
<text transform="translate(396.20 351.57) scale(0.1)" x="0" y="0" font-family="Liberation Sans" font-size="28.50" font-weight="normal" text-anchor="start" fill="#222" stroke="#222" stroke-width="2.00">DWTaP+OO validation loss</text>
<line x1="389.2" y1="354.22" x2="394.6" y2="354.22" stroke="#0000ff" stroke-opacity="0.85" stroke-width="1.1"/>
<text transform="translate(396.20 355.25) scale(0.1)" x="0" y="0" font-family="Liberation Sans" font-size="28.50" font-weight="normal" text-anchor="start" fill="#222" stroke="#222" stroke-width="2.00">DWTaP+OO+OA training loss</text>
<line x1="389.2" y1="357.90" x2="394.6" y2="357.90" stroke="#0000ff" stroke-opacity="0.65" stroke-width="1.1" stroke-dasharray="1.3,0.6"/>
<text transform="translate(396.20 358.93) scale(0.1)" x="0" y="0" font-family="Liberation Sans" font-size="28.50" font-weight="normal" text-anchor="start" fill="#222" stroke="#222" stroke-width="2.00">DWTaP+OO+OA validation loss</text>
<line x1="389.2" y1="361.58" x2="394.6" y2="361.58" stroke="#ff0000" stroke-opacity="0.85" stroke-width="1.1"/>
<text transform="translate(396.20 362.61) scale(0.1)" x="0" y="0" font-family="Liberation Sans" font-size="28.50" font-weight="normal" text-anchor="start" fill="#222" stroke="#222" stroke-width="2.00">DWTaP+OO+OA+BN training loss</text>
<line x1="389.2" y1="365.26" x2="394.6" y2="365.26" stroke="#ff0000" stroke-opacity="0.65" stroke-width="1.1" stroke-dasharray="1.3,0.6"/>
<text transform="translate(396.20 366.29) scale(0.1)" x="0" y="0" font-family="Liberation Sans" font-size="28.50" font-weight="normal" text-anchor="start" fill="#222" stroke="#222" stroke-width="2.00">DWTaP+OO+OA+BN validation loss</text>
<text transform="translate(341.9 427.3) scale(0.933 1)" x="0" y="0" font-family="Liberation Serif" font-size="9.5" fill="#222"><tspan stroke="#222" stroke-width="0.2">(h)</tspan><tspan dx="1.5"> DWTaPooling-Loss.</tspan></text>
<clipPath id="cpi"><rect x="101.4" y="452.4" width="116.0" height="67.30000000000007"/></clipPath>
<g clip-path="url(#cpi)">
<polyline points="107.20,513.30 107.80,495.00 108.30,479.20 109.20,466.10 111.20,458.90 114.40,455.40 155.70,455.40" fill="none" stroke="#c2c42a" stroke-width="0.9" stroke-opacity="0.85" stroke-linejoin="round"/>
<polyline points="107.90,512.60 111.20,501.50 113.80,491.00 116.40,480.50 119.00,474.00 123.00,466.10 128.20,460.90 133.40,458.90 138.70,458.20 140.50,459.00 145.20,456.90" fill="none" stroke="#bf00bf" stroke-width="0.9" stroke-opacity="0.85" stroke-linejoin="round"/>
<polyline points="107.20,514.60 115.00,510.50 122.00,510.00 130.00,509.50 140.00,509.00 148.00,508.50 155.70,508.70" fill="none" stroke="#c2c42a" stroke-width="0.9" stroke-dasharray="1.5,0.5" stroke-opacity="0.65" stroke-linejoin="round"/>
<polyline points="107.20,510.00 115.00,510.60 122.00,511.30 128.00,512.00 133.40,512.60 137.40,510.60 141.30,513.30 145.20,511.30" fill="none" stroke="#bf00bf" stroke-width="0.9" stroke-dasharray="1.5,0.5" stroke-opacity="0.65" stroke-linejoin="round"/>
<polyline points="107.20,513.30 113.00,510.50 120.00,510.60 126.00,511.20 133.40,510.50 138.00,512.00 142.50,510.80 146.00,511.50 149.20,512.60" fill="none" stroke="#ff0000" stroke-width="0.9" stroke-dasharray="1.5,0.5" stroke-opacity="0.65" stroke-linejoin="round"/>
<polyline points="107.20,512.00 115.10,509.30 121.00,509.00 125.00,508.00 129.50,507.40 133.40,509.30 137.40,506.70 142.00,508.00 146.50,505.40 150.50,502.80" fill="none" stroke="#ff0000" stroke-width="0.9" stroke-opacity="0.85" stroke-linejoin="round"/>
<polyline points="107.20,515.20 115.10,512.60 123.00,512.00 130.80,510.00 138.70,509.30 146.50,508.00 151.80,505.40 155.00,506.30 160.50,508.40 166.00,505.60 171.50,504.30 175.50,505.60 179.10,507.70 183.90,506.30 188.00,504.30 192.00,506.30 196.30,507.00 199.70,503.60 202.00,505.60 204.50,502.20 208.00,506.30 211.40,504.30" fill="none" stroke="#0000ff" stroke-width="0.9" stroke-opacity="0.85" stroke-linejoin="round"/>
<polyline points="107.20,515.80 115.10,513.30 125.60,511.30 134.80,511.30 142.60,508.00 150.50,507.40 155.00,507.00 161.90,509.10 167.00,505.60 172.50,505.00 178.40,505.60 183.90,507.70 188.00,504.50 192.00,507.00 197.60,504.30 202.00,506.30 207.30,504.30 210.00,507.00 212.00,505.60" fill="none" stroke="#0000ff" stroke-width="0.9" stroke-dasharray="1.5,0.5" stroke-opacity="0.65" stroke-linejoin="round"/>
</g>
<rect x="101.4" y="452.4" width="116.0" height="67.30000000000007" fill="none" stroke="#7a7a7a" stroke-width="0.8"/>
<line x1="104.10" y1="519.7" x2="104.10" y2="520.9000000000001" stroke="#222" stroke-width="0.6"/>
<text transform="translate(104.10 523.60) scale(0.1)" x="0" y="0" font-family="Liberation Sans" font-size="27.00" font-weight="normal" text-anchor="middle" fill="#222" stroke="#222" stroke-width="2.00">0</text>
<line x1="129.90" y1="519.7" x2="129.90" y2="520.9000000000001" stroke="#222" stroke-width="0.6"/>
<text transform="translate(129.90 523.60) scale(0.1)" x="0" y="0" font-family="Liberation Sans" font-size="27.00" font-weight="normal" text-anchor="middle" fill="#222" stroke="#222" stroke-width="2.00">10</text>
<line x1="155.70" y1="519.7" x2="155.70" y2="520.9000000000001" stroke="#222" stroke-width="0.6"/>
<text transform="translate(155.70 523.60) scale(0.1)" x="0" y="0" font-family="Liberation Sans" font-size="27.00" font-weight="normal" text-anchor="middle" fill="#222" stroke="#222" stroke-width="2.00">20</text>
<line x1="181.50" y1="519.7" x2="181.50" y2="520.9000000000001" stroke="#222" stroke-width="0.6"/>
<text transform="translate(181.50 523.60) scale(0.1)" x="0" y="0" font-family="Liberation Sans" font-size="27.00" font-weight="normal" text-anchor="middle" fill="#222" stroke="#222" stroke-width="2.00">30</text>
<line x1="207.30" y1="519.7" x2="207.30" y2="520.9000000000001" stroke="#222" stroke-width="0.6"/>
<text transform="translate(207.30 523.60) scale(0.1)" x="0" y="0" font-family="Liberation Sans" font-size="27.00" font-weight="normal" text-anchor="middle" fill="#222" stroke="#222" stroke-width="2.00">40</text>
<line x1="100.2" y1="508.30" x2="101.4" y2="508.30" stroke="#222" stroke-width="0.6"/>
<text transform="translate(99.60 509.27) scale(0.1)" x="0" y="0" font-family="Liberation Sans" font-size="27.00" font-weight="normal" text-anchor="end" fill="#222" stroke="#222" stroke-width="2.00">0.2</text>
<line x1="100.2" y1="495.02" x2="101.4" y2="495.02" stroke="#222" stroke-width="0.6"/>
<text transform="translate(99.60 496.00) scale(0.1)" x="0" y="0" font-family="Liberation Sans" font-size="27.00" font-weight="normal" text-anchor="end" fill="#222" stroke="#222" stroke-width="2.00">0.4</text>
<line x1="100.2" y1="481.75" x2="101.4" y2="481.75" stroke="#222" stroke-width="0.6"/>
<text transform="translate(99.60 482.72) scale(0.1)" x="0" y="0" font-family="Liberation Sans" font-size="27.00" font-weight="normal" text-anchor="end" fill="#222" stroke="#222" stroke-width="2.00">0.6</text>
<line x1="100.2" y1="468.48" x2="101.4" y2="468.48" stroke="#222" stroke-width="0.6"/>
<text transform="translate(99.60 469.45) scale(0.1)" x="0" y="0" font-family="Liberation Sans" font-size="27.00" font-weight="normal" text-anchor="end" fill="#222" stroke="#222" stroke-width="2.00">0.8</text>
<line x1="100.2" y1="455.20" x2="101.4" y2="455.20" stroke="#222" stroke-width="0.6"/>
<text transform="translate(99.60 456.17) scale(0.1)" x="0" y="0" font-family="Liberation Sans" font-size="27.00" font-weight="normal" text-anchor="end" fill="#222" stroke="#222" stroke-width="2.00">1.0</text>
<text transform="translate(159.40 527.60) scale(0.1)" x="0" y="0" font-family="Liberation Sans" font-size="27.50" font-weight="normal" text-anchor="middle" fill="#222" stroke="#222" stroke-width="2.00">Epochs</text>
<text transform="translate(94.30 486.05) rotate(-90) scale(0.1)" x="0" y="0" font-family="Liberation Sans" font-size="27.50" font-weight="normal" text-anchor="middle" fill="#222" stroke="#222" stroke-width="2.00">Accuracy(%)</text>
<text transform="translate(159.40 451.10) scale(1.03 1) scale(0.1)" x="0" y="0" font-family="Liberation Sans" font-size="49.00" font-weight="bold" text-anchor="middle" fill="#222" stroke="#222" stroke-width="2.50">Training and validation accu &amp; loss</text>
<text transform="translate(157.00 445.00) scale(0.1)" x="0" y="0" font-family="Liberation Sans" font-size="27.00" font-weight="normal" text-anchor="middle" fill="#222" stroke="#222" stroke-width="0.50">FMD10</text>
<rect x="160.9" y="453.7" width="55.29999999999998" height="29.399999999999977" fill="#fff" fill-opacity="0.92" stroke="#e0e0e0" stroke-width="0.6" rx="1"/>
<line x1="162.1" y1="455.70" x2="167.5" y2="455.70" stroke="#c2c42a" stroke-opacity="0.85" stroke-width="1.1"/>
<text transform="translate(169.10 456.73) scale(0.1)" x="0" y="0" font-family="Liberation Sans" font-size="28.50" font-weight="normal" text-anchor="start" fill="#222" stroke="#222" stroke-width="2.00">DWTsP training acc</text>
<line x1="162.1" y1="459.38" x2="167.5" y2="459.38" stroke="#c2c42a" stroke-opacity="0.65" stroke-width="1.1" stroke-dasharray="1.3,0.6"/>
<text transform="translate(169.10 460.41) scale(0.1)" x="0" y="0" font-family="Liberation Sans" font-size="28.50" font-weight="normal" text-anchor="start" fill="#222" stroke="#222" stroke-width="2.00">DWTsP validation acc</text>
<line x1="162.1" y1="463.06" x2="167.5" y2="463.06" stroke="#bf00bf" stroke-opacity="0.85" stroke-width="1.1"/>
<text transform="translate(169.10 464.09) scale(0.1)" x="0" y="0" font-family="Liberation Sans" font-size="28.50" font-weight="normal" text-anchor="start" fill="#222" stroke="#222" stroke-width="2.00">DWTsP+OO training acc</text>
<line x1="162.1" y1="466.74" x2="167.5" y2="466.74" stroke="#bf00bf" stroke-opacity="0.65" stroke-width="1.1" stroke-dasharray="1.3,0.6"/>
<text transform="translate(169.10 467.77) scale(0.1)" x="0" y="0" font-family="Liberation Sans" font-size="28.50" font-weight="normal" text-anchor="start" fill="#222" stroke="#222" stroke-width="2.00">DWTsP+OO validation acc</text>
<line x1="162.1" y1="470.42" x2="167.5" y2="470.42" stroke="#0000ff" stroke-opacity="0.85" stroke-width="1.1"/>
<text transform="translate(169.10 471.45) scale(0.1)" x="0" y="0" font-family="Liberation Sans" font-size="28.50" font-weight="normal" text-anchor="start" fill="#222" stroke="#222" stroke-width="2.00">DWTsP+OO+OA training acc</text>
<line x1="162.1" y1="474.10" x2="167.5" y2="474.10" stroke="#0000ff" stroke-opacity="0.65" stroke-width="1.1" stroke-dasharray="1.3,0.6"/>
<text transform="translate(169.10 475.13) scale(0.1)" x="0" y="0" font-family="Liberation Sans" font-size="28.50" font-weight="normal" text-anchor="start" fill="#222" stroke="#222" stroke-width="2.00">DWTsP+OO+OA validation acc</text>
<line x1="162.1" y1="477.78" x2="167.5" y2="477.78" stroke="#ff0000" stroke-opacity="0.85" stroke-width="1.1"/>
<text transform="translate(169.10 478.81) scale(0.1)" x="0" y="0" font-family="Liberation Sans" font-size="28.50" font-weight="normal" text-anchor="start" fill="#222" stroke="#222" stroke-width="2.00">DWTsP+OO+OA+BN training acc</text>
<line x1="162.1" y1="481.46" x2="167.5" y2="481.46" stroke="#ff0000" stroke-opacity="0.65" stroke-width="1.1" stroke-dasharray="1.3,0.6"/>
<text transform="translate(169.10 482.49) scale(0.1)" x="0" y="0" font-family="Liberation Sans" font-size="28.50" font-weight="normal" text-anchor="start" fill="#222" stroke="#222" stroke-width="2.00">DWTsP+OO+OA+BN validation acc</text>
<text transform="translate(116.2 543.4) scale(0.942 1)" x="0" y="0" font-family="Liberation Serif" font-size="9.5" fill="#222"><tspan stroke="#222" stroke-width="0.2">(i)</tspan><tspan dx="1.5"> DWTSPooling-Acc.</tspan></text>
<clipPath id="cpj"><rect x="253.4" y="452.4" width="116.20000000000002" height="67.10000000000002"/></clipPath>
<g clip-path="url(#cpj)">
<polyline points="259.20,485.10 261.20,493.60 263.20,505.40 265.10,513.30 267.10,516.50 307.70,516.50" fill="none" stroke="#c2c42a" stroke-width="0.9" stroke-opacity="0.85" stroke-linejoin="round"/>
<polyline points="259.20,485.10 263.20,489.70 267.10,496.20 271.00,504.10 275.00,509.30 280.20,513.00 286.80,513.90 292.00,514.20 297.20,515.60" fill="none" stroke="#bf00bf" stroke-width="0.9" stroke-opacity="0.85" stroke-linejoin="round"/>
<polyline points="259.20,485.10 267.10,484.50 273.70,483.50 280.20,482.50 288.00,481.80 297.20,481.20 307.70,480.90" fill="none" stroke="#c2c42a" stroke-width="0.9" stroke-dasharray="1.5,0.5" stroke-opacity="0.65" stroke-linejoin="round"/>
<polyline points="259.20,485.10 267.10,484.50 275.00,483.20 281.50,481.80 285.50,481.20 289.40,479.90 292.00,481.20 297.20,479.90" fill="none" stroke="#bf00bf" stroke-width="0.9" stroke-dasharray="1.5,0.5" stroke-opacity="0.65" stroke-linejoin="round"/>
<polyline points="259.20,485.10 290.00,486.50 310.00,487.50 337.10,488.10 364.10,489.20" fill="none" stroke="#0000ff" stroke-width="0.8" stroke-opacity="0.85" stroke-linejoin="round"/>
<polyline points="259.20,485.10 290.00,486.00 323.50,486.90 340.00,486.90 357.40,486.50 364.10,486.90" fill="none" stroke="#0000ff" stroke-width="0.8" stroke-dasharray="1.5,0.5" stroke-opacity="0.65" stroke-linejoin="round"/>
<polyline points="259.20,468.70 263.20,474.00 267.10,477.20 269.80,477.20 273.70,480.50 280.00,481.20 286.80,482.50 293.30,484.40 302.50,485.80" fill="none" stroke="#ff0000" stroke-width="0.9" stroke-opacity="0.85" stroke-linejoin="round"/>
<polyline points="259.20,485.10 264.50,483.80 269.10,478.50 271.70,481.80 276.90,475.30 281.50,477.90 285.50,478.60 289.40,483.10 294.50,482.50 297.20,481.20 299.90,455.60 302.50,481.20" fill="none" stroke="#ff0000" stroke-width="0.9" stroke-dasharray="1.5,0.5" stroke-opacity="0.65" stroke-linejoin="round"/>
</g>
<rect x="253.4" y="452.4" width="116.20000000000002" height="67.10000000000002" fill="none" stroke="#7a7a7a" stroke-width="0.8"/>
<line x1="256.50" y1="519.5" x2="256.50" y2="520.7" stroke="#222" stroke-width="0.6"/>
<text transform="translate(256.50 523.40) scale(0.1)" x="0" y="0" font-family="Liberation Sans" font-size="27.00" font-weight="normal" text-anchor="middle" fill="#222" stroke="#222" stroke-width="2.00">0</text>
<line x1="282.23" y1="519.5" x2="282.23" y2="520.7" stroke="#222" stroke-width="0.6"/>
<text transform="translate(282.23 523.40) scale(0.1)" x="0" y="0" font-family="Liberation Sans" font-size="27.00" font-weight="normal" text-anchor="middle" fill="#222" stroke="#222" stroke-width="2.00">10</text>
<line x1="307.96" y1="519.5" x2="307.96" y2="520.7" stroke="#222" stroke-width="0.6"/>
<text transform="translate(307.96 523.40) scale(0.1)" x="0" y="0" font-family="Liberation Sans" font-size="27.00" font-weight="normal" text-anchor="middle" fill="#222" stroke="#222" stroke-width="2.00">20</text>
<line x1="333.69" y1="519.5" x2="333.69" y2="520.7" stroke="#222" stroke-width="0.6"/>
<text transform="translate(333.69 523.40) scale(0.1)" x="0" y="0" font-family="Liberation Sans" font-size="27.00" font-weight="normal" text-anchor="middle" fill="#222" stroke="#222" stroke-width="2.00">30</text>
<line x1="359.42" y1="519.5" x2="359.42" y2="520.7" stroke="#222" stroke-width="0.6"/>
<text transform="translate(359.42 523.40) scale(0.1)" x="0" y="0" font-family="Liberation Sans" font-size="27.00" font-weight="normal" text-anchor="middle" fill="#222" stroke="#222" stroke-width="2.00">40</text>
<line x1="252.20000000000002" y1="516.80" x2="253.4" y2="516.80" stroke="#222" stroke-width="0.6"/>
<text transform="translate(251.60 517.77) scale(0.1)" x="0" y="0" font-family="Liberation Sans" font-size="27.00" font-weight="normal" text-anchor="end" fill="#222" stroke="#222" stroke-width="2.00">0</text>
<line x1="252.20000000000002" y1="503.38" x2="253.4" y2="503.38" stroke="#222" stroke-width="0.6"/>
<text transform="translate(251.60 504.35) scale(0.1)" x="0" y="0" font-family="Liberation Sans" font-size="27.00" font-weight="normal" text-anchor="end" fill="#222" stroke="#222" stroke-width="2.00">1</text>
<line x1="252.20000000000002" y1="489.95" x2="253.4" y2="489.95" stroke="#222" stroke-width="0.6"/>
<text transform="translate(251.60 490.92) scale(0.1)" x="0" y="0" font-family="Liberation Sans" font-size="27.00" font-weight="normal" text-anchor="end" fill="#222" stroke="#222" stroke-width="2.00">2</text>
<line x1="252.20000000000002" y1="476.52" x2="253.4" y2="476.52" stroke="#222" stroke-width="0.6"/>
<text transform="translate(251.60 477.50) scale(0.1)" x="0" y="0" font-family="Liberation Sans" font-size="27.00" font-weight="normal" text-anchor="end" fill="#222" stroke="#222" stroke-width="2.00">3</text>
<line x1="252.20000000000002" y1="463.10" x2="253.4" y2="463.10" stroke="#222" stroke-width="0.6"/>
<text transform="translate(251.60 464.07) scale(0.1)" x="0" y="0" font-family="Liberation Sans" font-size="27.00" font-weight="normal" text-anchor="end" fill="#222" stroke="#222" stroke-width="2.00">4</text>
<text transform="translate(311.50 527.40) scale(0.1)" x="0" y="0" font-family="Liberation Sans" font-size="27.50" font-weight="normal" text-anchor="middle" fill="#222" stroke="#222" stroke-width="2.00">Epochs</text>
<text transform="translate(249.00 485.95) rotate(-90) scale(0.1)" x="0" y="0" font-family="Liberation Sans" font-size="27.50" font-weight="normal" text-anchor="middle" fill="#222" stroke="#222" stroke-width="2.00">Loss (%)</text>
<text transform="translate(311.50 451.10) scale(1.03 1) scale(0.1)" x="0" y="0" font-family="Liberation Sans" font-size="49.00" font-weight="bold" text-anchor="middle" fill="#222" stroke="#222" stroke-width="2.50">Training and validation accu &amp; loss</text>
<text transform="translate(308.00 445.00) scale(0.1)" x="0" y="0" font-family="Liberation Sans" font-size="27.00" font-weight="normal" text-anchor="middle" fill="#222" stroke="#222" stroke-width="0.50">FMD10</text>
<rect x="312.3" y="453.7" width="56.099999999999966" height="29.399999999999977" fill="#fff" fill-opacity="0.92" stroke="#e0e0e0" stroke-width="0.6" rx="1"/>
<line x1="313.5" y1="455.70" x2="318.90000000000003" y2="455.70" stroke="#c2c42a" stroke-opacity="0.85" stroke-width="1.1"/>
<text transform="translate(320.50 456.73) scale(0.1)" x="0" y="0" font-family="Liberation Sans" font-size="28.50" font-weight="normal" text-anchor="start" fill="#222" stroke="#222" stroke-width="2.00">DWTdP training loss</text>
<line x1="313.5" y1="459.38" x2="318.90000000000003" y2="459.38" stroke="#c2c42a" stroke-opacity="0.65" stroke-width="1.1" stroke-dasharray="1.3,0.6"/>
<text transform="translate(320.50 460.41) scale(0.1)" x="0" y="0" font-family="Liberation Sans" font-size="28.50" font-weight="normal" text-anchor="start" fill="#222" stroke="#222" stroke-width="2.00">DWTdP validation loss</text>
<line x1="313.5" y1="463.06" x2="318.90000000000003" y2="463.06" stroke="#bf00bf" stroke-opacity="0.85" stroke-width="1.1"/>
<text transform="translate(320.50 464.09) scale(0.1)" x="0" y="0" font-family="Liberation Sans" font-size="28.50" font-weight="normal" text-anchor="start" fill="#222" stroke="#222" stroke-width="2.00">DWTdP+OO training loss</text>
<line x1="313.5" y1="466.74" x2="318.90000000000003" y2="466.74" stroke="#bf00bf" stroke-opacity="0.65" stroke-width="1.1" stroke-dasharray="1.3,0.6"/>
<text transform="translate(320.50 467.77) scale(0.1)" x="0" y="0" font-family="Liberation Sans" font-size="28.50" font-weight="normal" text-anchor="start" fill="#222" stroke="#222" stroke-width="2.00">DWTdP+OO validation loss</text>
<line x1="313.5" y1="470.42" x2="318.90000000000003" y2="470.42" stroke="#0000ff" stroke-opacity="0.85" stroke-width="1.1"/>
<text transform="translate(320.50 471.45) scale(0.1)" x="0" y="0" font-family="Liberation Sans" font-size="28.50" font-weight="normal" text-anchor="start" fill="#222" stroke="#222" stroke-width="2.00">DWTdP+OO+OA training loss</text>
<line x1="313.5" y1="474.10" x2="318.90000000000003" y2="474.10" stroke="#0000ff" stroke-opacity="0.65" stroke-width="1.1" stroke-dasharray="1.3,0.6"/>
<text transform="translate(320.50 475.13) scale(0.1)" x="0" y="0" font-family="Liberation Sans" font-size="28.50" font-weight="normal" text-anchor="start" fill="#222" stroke="#222" stroke-width="2.00">DWTdP+OO+OA validation loss</text>
<line x1="313.5" y1="477.78" x2="318.90000000000003" y2="477.78" stroke="#ff0000" stroke-opacity="0.85" stroke-width="1.1"/>
<text transform="translate(320.50 478.81) scale(0.1)" x="0" y="0" font-family="Liberation Sans" font-size="28.50" font-weight="normal" text-anchor="start" fill="#222" stroke="#222" stroke-width="2.00">DWTdP+OO+OA+BN training loss</text>
<line x1="313.5" y1="481.46" x2="318.90000000000003" y2="481.46" stroke="#ff0000" stroke-opacity="0.65" stroke-width="1.1" stroke-dasharray="1.3,0.6"/>
<text transform="translate(320.50 482.49) scale(0.1)" x="0" y="0" font-family="Liberation Sans" font-size="28.50" font-weight="normal" text-anchor="start" fill="#222" stroke="#222" stroke-width="2.00">DWTdP+OO+OA+BN validation loss</text>
<text transform="translate(266.0 542.8) scale(0.929 1)" x="0" y="0" font-family="Liberation Serif" font-size="9.5" fill="#222"><tspan stroke="#222" stroke-width="0.2">(j)</tspan><tspan dx="1.5"> DWTdPooling-Loss.</tspan></text>
</svg></body></html>
